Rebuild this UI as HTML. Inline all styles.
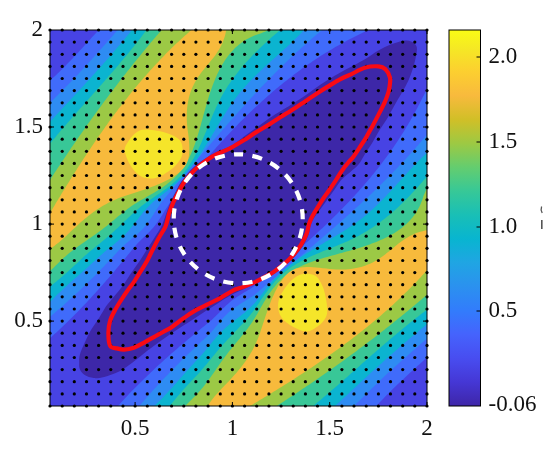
<!DOCTYPE html>
<html><head><meta charset="utf-8"><title>contour plot</title>
<style>html,body{margin:0;padding:0;background:#fff}svg{display:block}</style></head>
<body>
<svg width="550" height="451" viewBox="0 0 550 451">
<rect width="550" height="451" fill="#fff"/>
<clipPath id="pc"><rect x="50.0" y="30.0" width="377.0" height="376.0"/></clipPath>
<g clip-path="url(#pc)">
<rect x="50.0" y="30.0" width="377.0" height="376.0" fill="#4743E4"/>
<path d="M0.8 383.6L2.4 382.2L4.0 380.7L5.6 379.3L7.1 377.8L8.7 376.4L10.3 374.9L11.9 373.4L13.5 372.0L15.0 370.5L16.6 369.1L18.2 367.6L19.8 366.2L21.4 364.7L22.9 363.2L24.5 361.8L26.1 360.3L27.7 358.9L29.2 357.4L30.8 355.9L32.4 354.5L34.0 353.0L35.6 351.6L37.1 350.1L38.7 348.7L40.3 347.2L41.9 345.7L43.4 344.3L45.0 342.8L46.6 341.4L48.2 339.9L49.8 338.4L51.3 337.0L51.3 337.0L52.9 335.6L54.5 334.1L56.1 332.7L57.7 331.2L59.3 329.7L60.8 328.3L62.4 326.8L64.0 325.3L65.5 323.8L67.1 322.3L68.6 320.8L70.1 319.3L71.7 317.8L73.2 316.3L74.7 314.8L76.2 313.3L77.7 311.7L79.2 310.2L80.7 308.6L82.2 307.1L83.7 305.5L85.1 304.0L86.6 302.4L88.1 300.8L89.5 299.3L91.0 297.7L92.4 296.1L93.9 294.5L95.3 292.9L96.8 291.3L98.2 289.7L99.6 288.1L101.1 286.5L102.5 284.9L103.9 283.3L105.3 281.7L106.7 280.1L108.2 278.4L109.6 276.8L111.0 275.2L112.4 273.5L113.8 271.9L115.2 270.2L116.5 268.6L117.9 267.0L119.3 265.3L120.7 263.6L122.1 262.0L123.5 260.3L124.8 258.7L126.2 257.0L127.6 255.3L128.9 253.7L130.3 252.0L131.7 250.3L133.0 248.7L134.4 247.0L135.8 245.4L137.2 243.8L138.7 242.2L140.2 240.7L141.7 239.2L143.3 237.7L144.9 236.2L146.4 234.7L147.9 233.2L149.5 231.7L151.0 230.1L152.4 228.6L153.8 226.9L155.2 225.3L156.5 223.5L157.8 221.8L159.0 220.0L160.2 218.1L161.4 216.3L162.5 214.4L163.7 212.5L164.8 210.6L166.0 208.7L167.2 206.9L168.4 205.1L169.6 203.3L170.9 201.5L172.3 199.8L173.6 198.2L175.0 196.5L176.3 194.8L177.7 193.1L179.0 191.4L180.4 189.8L181.8 188.1L183.1 186.4L184.5 184.8L185.9 183.1L187.2 181.4L188.6 179.8L190.0 178.1L191.4 176.5L192.8 174.8L194.1 173.1L195.5 171.5L196.9 169.8L198.3 168.2L199.7 166.6L201.1 164.9L202.5 163.3L203.9 161.7L205.3 160.0L206.7 158.4L208.1 156.8L209.5 155.2L211.0 153.5L212.4 151.9L213.8 150.3L215.3 148.7L216.7 147.1L218.1 145.5L219.6 143.9L221.0 142.3L222.5 140.8L223.9 139.2L225.4 137.6L226.9 136.0L228.3 134.5L229.8 132.9L231.3 131.3L232.8 129.8L234.2 128.2L235.7 126.7L237.2 125.2L238.7 123.6L240.2 122.1L241.8 120.6L243.3 119.1L244.8 117.6L246.3 116.0L247.9 114.5L249.4 113.1L251.0 111.6L252.5 110.1L254.1 108.6L255.6 107.1L257.2 105.7L258.8 104.2L260.4 102.7L261.9 101.3L263.5 99.9L265.1 98.4L266.8 97.0L268.4 95.6L270.0 94.2L271.6 92.7L273.2 91.3L274.9 89.9L276.5 88.6L278.2 87.2L279.9 85.8L281.5 84.4L283.2 83.1L284.9 81.7L286.6 80.4L288.3 79.0L290.0 77.7L291.7 76.4L293.4 75.1L295.1 73.8L296.9 72.5L298.6 71.2L300.4 69.9L302.1 68.6L303.9 67.3L305.7 66.1L307.5 64.8L309.3 63.6L311.1 62.4L312.9 61.1L314.7 59.9L316.5 58.7L318.4 57.5L320.2 56.3L322.1 55.1L323.9 54.0L325.8 52.8L327.7 51.7L329.6 50.5L331.5 49.4L333.4 48.2L335.3 47.1L337.3 46.0L339.2 44.9L341.2 43.8L343.1 42.8L345.1 41.7L347.1 40.6L349.1 39.6L351.1 38.6L353.1 37.5L355.1 36.5L357.1 35.5L359.1 34.5L361.1 33.4L363.1 32.4L365.1 31.4L367.1 30.3L369.1 29.3L371.1 28.2L373.1 27.2L375.1 26.2L377.1 25.1L379.1 24.1L381.1 23.1L383.1 22.0L385.1 21.0L387.1 19.9L389.1 18.9L391.1 17.9L393.1 16.8L395.1 15.8L397.1 14.8L399.1 13.7L401.1 12.7L403.1 11.6L405.1 10.6L407.1 9.6L409.1 8.5L411.1 7.5L413.1 6.4L415.1 5.4L417.1 4.4L419.1 3.3L421.1 2.3L143.7 -19.7L142.2 -18.1L140.8 -16.5L139.3 -14.9L137.9 -13.3L136.5 -11.7L135.0 -10.1L133.6 -8.5L132.1 -7.0L130.7 -5.4L129.2 -3.8L127.8 -2.2L126.4 -0.6L124.9 1.0L123.5 2.6L122.0 4.2L120.6 5.8L119.1 7.4L117.7 9.0L116.2 10.6L114.8 12.2L113.4 13.7L111.9 15.3L110.5 16.9L109.0 18.5L107.6 20.1L106.1 21.7L104.7 23.3L103.3 24.9L101.8 26.5L100.4 28.1L98.9 29.7L97.5 31.3L96.0 32.9L94.6 34.4L93.2 36.0L91.7 37.6L90.3 39.2L88.8 40.8L87.4 42.4L85.9 44.0L84.5 45.6L83.0 47.2L81.6 48.7L80.1 50.3L78.6 51.9L77.2 53.5L75.7 55.0L74.2 56.6L72.8 58.2L71.3 59.7L69.8 61.3L68.3 62.8L66.8 64.3L65.3 65.9L63.8 67.4L62.3 68.9L60.7 70.4L59.2 71.9L57.6 73.4L56.1 74.9L54.5 76.4L53.0 77.8L51.4 79.3L49.8 80.8L48.3 82.2L46.7 83.7L45.1 85.2L43.6 86.7L42.0 88.2L40.5 89.6L38.9 91.1L37.4 92.6L35.8 94.1L34.3 95.6L32.7 97.1L31.2 98.5L29.6 100.0L28.0 101.5L26.5 103.0L24.9 104.5L23.4 105.9L21.8 107.4L20.3 108.9L18.7 110.4L17.2 111.9L15.6 113.3L14.0 114.8L12.5 116.3L10.9 117.8L9.4 119.3L7.8 120.8L6.3 122.2L4.7 123.7L3.2 125.2L1.6 126.7L0.1 128.2ZM72.4 455.0L73.9 453.5L75.3 451.9L76.8 450.3L78.3 448.7L79.7 447.2L81.2 445.6L82.6 444.0L84.1 442.4L85.6 440.9L87.0 439.3L88.5 437.7L90.0 436.1L91.4 434.6L92.9 433.0L94.3 431.4L95.8 429.8L97.3 428.3L98.7 426.7L100.2 425.1L101.7 423.6L103.1 422.0L104.6 420.4L106.0 418.8L107.5 417.3L109.0 415.7L110.4 414.1L111.9 412.5L113.3 411.0L114.8 409.4L116.3 407.8L117.7 406.2L119.2 404.7L119.2 404.7L120.6 403.1L122.1 401.5L123.5 399.9L125.0 398.3L126.5 396.7L127.9 395.2L129.4 393.6L130.9 392.1L132.4 390.5L133.9 389.0L135.4 387.5L136.9 385.9L138.4 384.4L139.9 382.9L141.5 381.4L143.0 379.9L144.5 378.4L146.1 376.9L147.6 375.4L149.2 373.9L150.7 372.4L152.3 371.0L153.9 369.5L155.4 368.0L157.0 366.6L158.6 365.1L160.2 363.7L161.8 362.2L163.4 360.8L165.0 359.3L166.6 357.9L168.2 356.5L169.8 355.1L171.4 353.6L173.0 352.2L174.7 350.8L176.3 349.4L177.9 348.0L179.5 346.6L181.2 345.2L182.8 343.8L184.5 342.4L186.1 341.0L187.8 339.6L189.4 338.2L191.1 336.9L192.7 335.5L194.4 334.1L196.1 332.7L197.7 331.4L199.4 330.0L201.1 328.6L202.7 327.3L204.4 325.9L206.1 324.5L207.7 323.2L209.4 321.8L211.1 320.4L212.7 319.0L214.2 317.5L215.8 316.0L217.3 314.5L218.8 313.0L220.3 311.4L221.7 309.8L223.2 308.3L224.8 306.8L226.3 305.3L227.9 303.9L229.5 302.5L231.2 301.1L232.9 299.8L234.7 298.5L236.5 297.3L238.4 296.1L240.2 294.9L242.1 293.8L244.0 292.6L245.9 291.5L247.8 290.3L249.6 289.2L251.5 287.9L253.3 286.7L255.0 285.4L256.7 284.1L258.4 282.7L260.1 281.4L261.8 280.0L263.4 278.7L265.1 277.3L266.8 275.9L268.5 274.6L270.2 273.2L271.8 271.9L273.5 270.5L275.2 269.1L276.8 267.8L278.5 266.4L280.2 265.0L281.8 263.6L283.5 262.2L285.1 260.9L286.8 259.5L288.4 258.1L290.1 256.7L291.7 255.3L293.4 253.9L295.0 252.5L296.6 251.1L298.3 249.7L299.9 248.3L301.5 246.9L303.1 245.5L304.7 244.0L306.4 242.6L308.0 241.2L309.6 239.8L311.2 238.3L312.8 236.9L314.4 235.4L315.9 234.0L317.5 232.5L319.1 231.1L320.7 229.6L322.3 228.2L323.8 226.7L325.4 225.2L326.9 223.7L328.5 222.2L330.0 220.8L331.6 219.3L333.1 217.8L334.6 216.3L336.2 214.7L337.7 213.2L339.2 211.7L340.7 210.2L342.2 208.7L343.7 207.1L345.2 205.6L346.7 204.0L348.2 202.5L349.7 200.9L351.1 199.3L352.6 197.8L354.1 196.2L355.5 194.6L357.0 193.0L358.4 191.4L359.8 189.8L361.3 188.2L362.7 186.6L364.1 185.0L365.5 183.3L366.9 181.7L368.3 180.1L369.7 178.4L371.1 176.8L372.4 175.1L373.8 173.4L375.1 171.7L376.5 170.1L377.8 168.4L379.2 166.7L380.5 164.9L381.8 163.2L383.1 161.5L384.4 159.8L385.7 158.0L387.0 156.3L388.3 154.5L389.6 152.8L390.8 151.0L392.1 149.2L393.3 147.4L394.6 145.6L395.8 143.8L397.0 142.0L398.2 140.2L399.4 138.3L400.6 136.5L401.8 134.6L403.0 132.8L404.1 130.9L405.3 129.0L406.4 127.1L407.6 125.2L408.7 123.3L409.8 121.4L410.9 119.5L412.0 117.6L413.1 115.6L414.2 113.7L415.3 111.7L416.3 109.7L417.4 107.7L418.4 105.7L419.5 103.7L420.5 101.7L421.5 99.7L422.5 97.7L423.6 95.7L424.6 93.7L425.6 91.7L426.7 89.7L427.7 87.7L428.8 85.7L429.8 83.7L430.8 81.7L431.9 79.7L432.9 77.7L434.0 75.8L435.0 73.8L436.0 71.8L437.1 69.8L438.1 67.8L439.2 65.8L440.2 63.8L441.2 61.8L442.3 59.8L443.3 57.8L444.4 55.8L445.4 53.8L446.5 51.8L447.5 49.8L448.5 47.8L449.6 45.8L450.6 43.8L451.7 41.9L452.7 39.9L453.7 37.9L454.8 35.9L476.8 312.6L475.2 314.0L473.6 315.4L472.0 316.9L470.4 318.3L468.8 319.8L467.2 321.2L465.6 322.6L464.1 324.1L462.5 325.5L460.9 327.0L459.3 328.4L457.7 329.8L456.1 331.3L454.5 332.7L452.9 334.2L451.3 335.6L449.7 337.0L448.1 338.5L446.5 339.9L444.9 341.4L443.3 342.8L441.7 344.2L440.1 345.7L438.5 347.1L436.9 348.6L435.3 350.0L433.7 351.4L432.1 352.9L430.5 354.3L428.9 355.8L427.3 357.2L425.7 358.6L424.1 360.1L422.5 361.5L420.9 363.0L419.3 364.4L417.7 365.8L416.2 367.3L414.6 368.7L413.0 370.2L411.4 371.6L409.8 373.1L408.2 374.5L406.6 376.0L405.0 377.4L403.5 378.9L401.9 380.4L400.3 381.8L398.8 383.3L397.2 384.8L395.7 386.3L394.1 387.8L392.6 389.3L391.0 390.8L389.5 392.3L388.0 393.8L386.5 395.3L385.0 396.8L383.5 398.4L382.0 399.9L380.5 401.5L379.0 403.0L377.6 404.6L376.1 406.2L374.6 407.7L373.1 409.3L371.7 410.8L370.2 412.4L368.7 413.9L367.2 415.5L365.7 417.0L364.2 418.6L362.7 420.1L361.3 421.7L359.8 423.2L358.3 424.8L356.8 426.3L355.3 427.9L353.8 429.4L352.3 431.0L350.9 432.6L349.4 434.1L347.9 435.7L346.4 437.2L344.9 438.8L343.4 440.3L341.9 441.9L340.5 443.4L339.0 445.0L337.5 446.5L336.0 448.1L334.5 449.6L333.0 451.2L331.5 452.7L330.1 454.3L328.6 455.8Z" fill="#406BFB"/>
<path d="M-2.6 362.0L-1.0 360.6L0.6 359.2L2.3 357.8L3.9 356.4L5.5 355.0L7.2 353.6L8.8 352.2L10.4 350.8L12.1 349.4L13.7 348.0L15.3 346.6L17.0 345.2L18.6 343.8L20.2 342.4L21.9 341.0L23.5 339.6L25.1 338.1L26.8 336.7L28.4 335.3L30.0 333.9L31.7 332.5L33.3 331.1L34.9 329.7L36.6 328.3L38.2 326.9L39.8 325.5L41.5 324.1L43.1 322.7L44.7 321.3L46.4 319.9L48.0 318.5L49.6 317.1L51.3 315.7L53.0 314.3L54.6 312.9L56.2 311.5L57.9 310.1L59.5 308.7L61.1 307.3L62.7 305.9L64.3 304.5L65.9 303.0L67.5 301.6L69.1 300.1L70.7 298.7L72.3 297.2L73.9 295.8L75.4 294.3L77.0 292.9L78.6 291.4L80.1 289.9L81.7 288.4L83.2 286.9L84.8 285.4L86.3 283.9L87.9 282.4L89.4 280.9L90.9 279.4L92.4 277.9L94.0 276.4L95.5 274.9L97.0 273.4L98.5 271.8L100.0 270.3L101.5 268.8L103.0 267.2L104.5 265.7L106.0 264.1L107.5 262.6L108.9 261.0L110.4 259.5L111.9 257.9L113.4 256.3L114.8 254.8L116.3 253.2L117.7 251.6L119.2 250.0L120.7 248.5L122.2 247.0L123.8 245.5L125.4 244.1L127.0 242.7L128.7 241.3L130.4 239.9L132.0 238.6L133.7 237.2L135.4 235.8L137.0 234.4L138.6 233.0L140.2 231.5L141.7 230.0L143.2 228.4L144.6 226.8L146.0 225.2L147.3 223.5L148.6 221.7L149.9 220.0L151.1 218.1L152.3 216.3L153.5 214.4L154.6 212.6L155.8 210.7L157.0 208.8L158.2 207.0L159.4 205.2L160.6 203.4L161.9 201.7L163.3 200.0L164.6 198.3L166.0 196.7L167.4 195.0L168.8 193.4L170.2 191.7L171.6 190.1L173.0 188.4L174.4 186.8L175.8 185.1L177.1 183.5L178.5 181.8L179.9 180.2L181.3 178.5L182.7 176.9L184.1 175.2L185.5 173.6L186.9 171.9L188.2 170.3L189.6 168.7L191.0 167.0L192.4 165.4L193.8 163.7L195.2 162.1L196.6 160.4L198.0 158.8L199.3 157.1L200.7 155.5L202.1 153.8L203.5 152.2L204.9 150.5L206.3 148.9L207.7 147.3L209.1 145.6L210.5 144.0L211.9 142.3L213.3 140.7L214.7 139.1L216.1 137.4L217.5 135.8L218.9 134.2L220.3 132.6L221.7 130.9L223.1 129.3L224.6 127.7L226.0 126.1L227.4 124.4L228.8 122.8L230.2 121.2L231.6 119.6L233.1 118.0L234.5 116.4L235.9 114.8L237.4 113.2L238.8 111.5L240.2 109.9L241.7 108.4L243.1 106.8L244.5 105.2L246.0 103.6L247.4 102.0L248.9 100.4L250.4 98.8L251.8 97.2L253.3 95.7L254.7 94.1L256.2 92.5L257.7 91.0L259.1 89.4L260.6 87.8L262.1 86.3L263.6 84.7L265.1 83.2L266.6 81.7L268.1 80.1L269.6 78.6L271.1 77.0L272.6 75.5L274.1 74.0L275.6 72.5L277.1 70.9L278.7 69.4L280.2 67.9L281.7 66.4L283.2 64.9L284.8 63.4L286.3 61.9L287.9 60.5L289.4 59.0L291.0 57.5L292.6 56.0L294.1 54.6L295.7 53.1L297.3 51.6L298.9 50.2L300.5 48.7L302.1 47.3L303.6 45.9L305.3 44.4L306.9 43.0L308.5 41.6L310.1 40.2L311.7 38.7L313.4 37.3L315.0 35.9L316.6 34.6L318.3 33.2L319.9 31.8L321.6 30.4L323.2 29.0L324.9 27.6L326.5 26.2L328.2 24.8L329.8 23.4L331.4 22.0L333.1 20.6L334.7 19.2L336.4 17.8L338.0 16.4L339.6 15.0L341.3 13.7L342.9 12.3L344.6 10.9L346.2 9.5L347.9 8.1L349.5 6.7L351.1 5.3L352.8 3.9L354.4 2.5L356.1 1.1L357.7 -0.3L359.3 -1.7L361.0 -3.1L362.6 -4.5L364.3 -5.9L365.9 -7.3L367.5 -8.7L369.2 -10.1L370.8 -11.5L372.5 -12.9L175.9 -38.5L174.5 -36.8L173.1 -35.2L171.8 -33.5L170.4 -31.9L169.0 -30.3L167.6 -28.6L166.2 -27.0L164.8 -25.3L163.4 -23.7L162.0 -22.1L160.6 -20.4L159.2 -18.8L157.8 -17.1L156.4 -15.5L155.0 -13.9L153.6 -12.2L152.2 -10.6L150.8 -8.9L149.4 -7.3L148.0 -5.7L146.6 -4.0L145.2 -2.4L143.8 -0.7L142.4 0.9L141.0 2.5L139.6 4.2L138.3 5.8L136.9 7.5L135.5 9.1L134.1 10.7L132.7 12.4L131.3 14.0L129.9 15.7L128.5 17.3L127.1 19.0L125.7 20.6L124.3 22.2L122.9 23.9L121.5 25.5L120.1 27.1L118.7 28.8L117.3 30.4L115.9 32.0L114.5 33.6L113.1 35.3L111.6 36.9L110.2 38.5L108.8 40.1L107.4 41.7L106.0 43.4L104.5 45.0L103.1 46.6L101.7 48.2L100.3 49.8L98.8 51.4L97.4 53.0L96.0 54.6L94.5 56.2L93.1 57.8L91.7 59.4L90.2 61.0L88.8 62.6L87.3 64.2L85.9 65.8L84.4 67.4L83.0 68.9L81.5 70.5L80.0 72.1L78.6 73.7L77.1 75.2L75.6 76.8L74.1 78.3L72.7 79.9L71.2 81.4L69.7 83.0L68.2 84.5L66.7 86.0L65.2 87.6L63.6 89.1L62.1 90.6L60.6 92.1L59.1 93.7L57.6 95.2L56.1 96.7L54.6 98.3L53.1 99.8L51.6 101.3L50.1 102.9L48.6 104.4L47.1 105.9L45.6 107.5L44.1 109.0L42.6 110.5L41.1 112.1L39.6 113.6L38.1 115.2L36.6 116.7L35.1 118.3L33.6 119.8L32.1 121.3L30.6 122.9L29.2 124.4L27.7 126.0L26.2 127.5L24.7 129.1L23.2 130.6L21.7 132.2L20.2 133.7L18.7 135.3L17.2 136.8L15.7 138.4L14.3 139.9L12.8 141.4L11.3 143.0L9.8 144.5L8.3 146.1L6.8 147.6L5.3 149.2L3.8 150.7L2.3 152.3L0.8 153.8L-0.6 155.4L-2.1 156.9L-3.6 158.5L-5.1 160.0L-6.6 161.5L-8.1 163.1L-9.6 164.6L-11.1 166.2L-12.6 167.7L-14.1 169.3L-15.6 170.8L-17.0 172.4L-18.5 173.9ZM94.1 458.5L95.5 456.9L96.9 455.2L98.3 453.6L99.7 452.0L101.2 450.3L102.6 448.7L104.0 447.1L105.4 445.5L106.8 443.8L108.2 442.2L109.6 440.6L111.0 438.9L112.4 437.3L113.8 435.7L115.2 434.1L116.6 432.4L118.0 430.8L119.4 429.2L120.8 427.5L122.3 425.9L123.7 424.3L125.1 422.6L126.5 421.0L127.9 419.4L129.3 417.8L130.7 416.1L132.1 414.5L133.5 412.9L134.9 411.2L136.3 409.6L137.7 408.0L139.1 406.4L140.5 404.7L141.9 403.1L143.3 401.4L144.7 399.8L146.1 398.2L147.5 396.5L149.0 394.9L150.4 393.3L151.8 391.7L153.2 390.1L154.7 388.5L156.1 386.9L157.6 385.3L159.0 383.8L160.5 382.2L162.0 380.6L163.4 379.1L164.9 377.5L166.4 375.9L167.9 374.4L169.4 372.8L170.9 371.3L172.4 369.8L173.9 368.2L175.4 366.7L176.9 365.2L178.4 363.7L179.9 362.2L181.5 360.6L183.0 359.1L184.5 357.6L186.1 356.1L187.6 354.6L189.2 353.1L190.7 351.7L192.3 350.2L193.8 348.7L195.4 347.2L196.9 345.7L198.5 344.3L200.1 342.8L201.6 341.3L203.2 339.9L204.8 338.4L206.4 337.0L207.9 335.5L209.4 334.0L210.9 332.4L212.4 330.8L213.8 329.2L215.1 327.5L216.5 325.9L217.9 324.2L219.3 322.5L220.6 320.9L222.0 319.2L223.5 317.6L225.0 316.1L226.5 314.6L228.0 313.1L229.6 311.6L231.3 310.3L233.0 308.9L234.7 307.6L236.5 306.4L238.4 305.2L240.2 304.0L242.1 302.8L243.9 301.7L245.8 300.5L247.7 299.3L249.5 298.1L251.3 296.9L253.1 295.7L254.9 294.4L256.6 293.0L258.3 291.7L259.9 290.3L261.5 288.9L263.2 287.5L264.8 286.1L266.5 284.7L268.1 283.3L269.8 282.0L271.4 280.6L273.1 279.2L274.8 277.8L276.4 276.4L278.1 275.0L279.7 273.7L281.4 272.3L283.0 270.9L284.7 269.5L286.3 268.1L288.0 266.7L289.6 265.4L291.3 264.0L292.9 262.6L294.6 261.2L296.2 259.8L297.9 258.4L299.5 257.0L301.2 255.7L302.8 254.3L304.5 252.9L306.1 251.5L307.8 250.1L309.4 248.7L311.1 247.3L312.7 245.9L314.4 244.5L316.0 243.1L317.6 241.7L319.3 240.3L320.9 238.9L322.5 237.5L324.2 236.1L325.8 234.7L327.4 233.3L329.1 231.9L330.7 230.5L332.3 229.1L333.9 227.7L335.6 226.3L337.2 224.8L338.8 223.4L340.4 222.0L342.0 220.6L343.6 219.1L345.2 217.7L346.8 216.3L348.4 214.8L350.0 213.4L351.6 212.0L353.2 210.5L354.8 209.1L356.4 207.6L358.0 206.2L359.6 204.7L361.2 203.3L362.7 201.8L364.3 200.3L365.9 198.9L367.4 197.4L369.0 195.9L370.6 194.5L372.1 193.0L373.7 191.5L375.2 190.0L376.8 188.5L378.3 187.0L379.8 185.5L381.4 184.0L382.9 182.5L384.4 181.0L385.9 179.5L387.5 178.0L389.0 176.4L390.5 174.9L392.0 173.4L393.5 171.8L395.0 170.3L396.5 168.7L398.0 167.2L399.4 165.6L400.9 164.1L402.4 162.5L403.8 160.9L405.3 159.4L406.8 157.8L408.2 156.2L409.7 154.6L411.1 153.0L412.5 151.4L414.0 149.8L415.4 148.2L416.8 146.6L418.2 145.0L419.6 143.3L421.0 141.7L422.4 140.1L423.8 138.4L425.2 136.8L426.6 135.1L428.0 133.5L429.4 131.8L430.8 130.2L432.2 128.6L433.6 126.9L435.0 125.3L436.4 123.7L437.8 122.0L439.2 120.4L440.6 118.8L442.0 117.1L443.4 115.5L444.8 113.8L446.2 112.2L447.6 110.6L449.0 108.9L450.4 107.3L451.8 105.7L453.2 104.0L454.6 102.4L456.0 100.8L457.4 99.1L458.8 97.5L460.2 95.8L461.6 94.2L463.0 92.6L464.4 90.9L465.8 89.3L467.2 87.7L468.6 86.0L470.0 84.4L495.6 280.4L494.0 281.8L492.4 283.2L490.7 284.6L489.1 286.0L487.4 287.4L485.8 288.7L484.1 290.1L482.5 291.5L480.8 292.9L479.2 294.3L477.6 295.7L475.9 297.1L474.3 298.5L472.6 299.9L471.0 301.3L469.3 302.7L467.7 304.1L466.0 305.5L464.4 306.8L462.8 308.2L461.1 309.6L459.5 311.0L457.8 312.4L456.2 313.8L454.5 315.2L452.9 316.6L451.2 318.0L449.6 319.4L448.0 320.8L446.3 322.2L444.7 323.6L443.0 324.9L441.4 326.3L439.7 327.7L438.1 329.1L436.4 330.5L434.8 331.9L433.1 333.3L431.5 334.7L429.9 336.1L428.2 337.5L426.6 338.9L425.0 340.3L423.3 341.7L421.7 343.1L420.1 344.5L418.5 345.9L416.8 347.4L415.2 348.8L413.6 350.2L412.0 351.6L410.4 353.0L408.7 354.4L407.1 355.9L405.5 357.3L403.9 358.7L402.3 360.1L400.7 361.6L399.1 363.0L397.5 364.4L395.9 365.9L394.3 367.3L392.7 368.8L391.1 370.2L389.5 371.7L387.9 373.1L386.4 374.6L384.8 376.0L383.2 377.5L381.7 379.0L380.1 380.4L378.5 381.9L377.0 383.4L375.4 384.9L373.9 386.4L372.3 387.9L370.8 389.4L369.3 390.9L367.7 392.4L366.2 393.9L364.7 395.4L363.2 396.9L361.6 398.4L360.1 399.9L358.6 401.4L357.0 402.9L355.5 404.4L354.0 405.9L352.4 407.4L350.9 408.9L349.3 410.4L347.8 411.9L346.2 413.4L344.7 414.9L343.2 416.4L341.6 417.9L340.1 419.4L338.5 420.8L337.0 422.3L335.4 423.8L333.9 425.3L332.3 426.8L330.8 428.3L329.2 429.8L327.7 431.2L326.1 432.7L324.6 434.2L323.0 435.7L321.5 437.2L319.9 438.7L318.4 440.2L316.8 441.6L315.3 443.1L313.7 444.6L312.2 446.1L310.6 447.6L309.1 449.1L307.5 450.6L306.0 452.1L304.4 453.5L302.9 455.0L301.3 456.5L299.8 458.0L298.2 459.5L296.7 461.0L295.1 462.5L293.6 463.9L292.0 465.4L290.5 466.9L288.9 468.4L287.4 469.9L285.8 471.4L284.3 472.9L282.7 474.4Z" fill="#2E8CF3"/>
<path d="M1.1 351.2L2.6 349.6L4.1 348.1L5.6 346.6L7.2 345.1L8.7 343.6L10.2 342.0L11.7 340.5L13.2 339.0L14.7 337.5L16.3 336.0L17.8 334.4L19.3 332.9L20.8 331.4L22.3 329.9L23.8 328.4L25.4 326.8L26.9 325.3L28.4 323.8L29.9 322.3L31.4 320.8L32.9 319.2L34.5 317.7L36.0 316.2L37.5 314.7L39.0 313.2L40.5 311.6L42.0 310.1L43.6 308.6L45.1 307.1L46.6 305.6L48.1 304.1L49.6 302.5L51.1 301.0L52.6 299.4L54.1 297.9L55.6 296.3L57.1 294.8L58.7 293.3L60.2 291.9L61.8 290.4L63.3 288.9L64.9 287.5L66.5 286.0L68.1 284.6L69.7 283.1L71.3 281.7L72.9 280.3L74.5 278.8L76.1 277.4L77.8 276.0L79.4 274.6L81.0 273.2L82.6 271.7L84.2 270.3L85.8 268.9L87.4 267.5L89.0 266.0L90.6 264.6L92.2 263.1L93.8 261.7L95.3 260.2L96.9 258.7L98.5 257.2L100.1 255.8L101.7 254.4L103.3 253.0L105.0 251.6L106.6 250.2L108.3 248.9L110.0 247.5L111.7 246.2L113.4 244.8L115.0 243.4L116.7 242.1L118.3 240.7L120.0 239.3L121.6 237.8L123.1 236.4L124.7 234.9L126.2 233.3L127.7 231.8L129.1 230.2L130.5 228.5L131.9 226.9L133.2 225.2L134.6 223.5L135.9 221.8L137.2 220.1L138.5 218.4L139.8 216.6L141.2 214.9L142.5 213.2L143.9 211.6L145.3 209.9L146.7 208.3L148.2 206.8L149.7 205.2L151.2 203.7L152.8 202.3L154.4 200.8L156.1 199.5L157.8 198.1L159.5 196.8L161.2 195.5L162.9 194.2L164.6 192.8L166.3 191.5L168.0 190.2L169.7 188.8L171.4 187.4L173.0 186.0L174.6 184.6L176.2 183.2L177.8 181.7L179.4 180.3L180.9 178.7L182.4 177.2L183.9 175.6L185.3 174.0L186.7 172.4L188.1 170.8L189.5 169.1L190.8 167.4L192.2 165.7L193.5 164.0L194.8 162.2L196.0 160.5L197.3 158.7L198.5 156.9L199.7 155.1L201.0 153.3L202.1 151.4L203.3 149.6L204.5 147.7L205.7 145.8L206.8 144.0L208.0 142.1L209.1 140.2L210.3 138.3L211.4 136.4L212.5 134.5L213.7 132.6L214.8 130.7L215.9 128.8L217.1 126.9L218.2 125.0L219.3 123.1L220.5 121.2L221.6 119.3L222.8 117.4L223.9 115.5L225.1 113.7L226.3 111.8L227.5 110.0L228.7 108.1L229.9 106.3L231.1 104.5L232.4 102.7L233.6 100.9L234.9 99.2L236.2 97.4L237.5 95.7L238.8 94.0L240.2 92.3L241.6 90.7L243.0 89.0L244.4 87.4L245.8 85.8L247.3 84.2L248.7 82.6L250.2 81.1L251.7 79.5L253.2 78.0L254.7 76.5L256.2 75.0L257.8 73.5L259.3 72.0L260.9 70.5L262.5 69.1L264.0 67.6L265.6 66.1L267.2 64.7L268.8 63.2L270.4 61.8L272.0 60.3L273.6 58.9L275.2 57.5L276.8 56.0L278.4 54.6L280.0 53.2L281.6 51.7L283.1 50.3L284.7 48.8L286.3 47.4L287.9 45.9L289.5 44.4L291.0 43.0L292.6 41.5L294.1 40.0L295.7 38.5L297.2 37.0L298.7 35.5L300.2 33.9L301.7 32.4L303.2 30.8L304.6 29.2L306.1 27.7L307.7 26.2L309.2 24.7L310.7 23.1L312.2 21.6L313.7 20.1L315.2 18.6L316.7 17.0L318.2 15.5L319.7 14.0L321.2 12.4L322.7 10.9L324.2 9.4L325.8 7.9L327.3 6.3L328.8 4.8L330.3 3.3L331.8 1.8L333.3 0.2L334.8 -1.3L336.3 -2.8L337.8 -4.4L339.3 -5.9L340.8 -7.4L342.4 -8.9L343.9 -10.5L345.4 -12.0L346.9 -13.5L348.4 -15.0L349.9 -16.6L351.4 -18.1L182.3 -32.2L180.9 -30.5L179.5 -28.8L178.2 -27.1L176.8 -25.4L175.5 -23.8L174.1 -22.1L172.8 -20.4L171.4 -18.7L170.0 -17.1L168.7 -15.4L167.3 -13.7L166.0 -12.0L164.6 -10.3L163.2 -8.7L161.9 -7.0L160.5 -5.3L159.2 -3.6L157.8 -2.0L156.5 -0.3L155.1 1.4L153.7 3.1L152.4 4.8L151.0 6.4L149.7 8.1L148.3 9.8L147.0 11.5L145.6 13.1L144.2 14.8L142.9 16.5L141.5 18.2L140.2 19.9L138.8 21.5L137.5 23.2L136.1 24.9L134.8 26.6L133.4 28.3L132.0 29.9L130.7 31.6L129.3 33.3L127.9 35.0L126.6 36.6L125.2 38.3L123.8 39.9L122.4 41.6L121.0 43.2L119.6 44.9L118.2 46.5L116.8 48.1L115.4 49.8L114.0 51.4L112.6 53.0L111.2 54.7L109.8 56.3L108.4 57.9L107.0 59.5L105.6 61.2L104.1 62.8L102.7 64.4L101.3 66.0L99.9 67.6L98.4 69.2L97.0 70.8L95.6 72.4L94.1 74.0L92.7 75.6L91.3 77.2L89.8 78.8L88.4 80.4L86.9 82.0L85.5 83.6L84.0 85.2L82.6 86.7L81.1 88.3L79.7 89.9L78.2 91.5L76.7 93.0L75.3 94.6L73.8 96.2L72.3 97.7L70.8 99.3L69.4 100.9L67.9 102.4L66.4 104.0L65.0 105.6L63.5 107.2L62.0 108.7L60.6 110.3L59.1 111.9L57.7 113.5L56.2 115.0L54.8 116.6L53.3 118.2L51.9 119.8L50.4 121.4L49.0 123.0L47.5 124.5L46.1 126.1L44.6 127.7L43.2 129.3L41.8 130.9L40.3 132.5L38.9 134.1L37.4 135.7L36.0 137.3L34.6 138.9L33.1 140.5L31.7 142.1L30.2 143.7L28.8 145.3L27.4 146.9L25.9 148.5L24.5 150.1L23.1 151.7L21.6 153.3L20.2 154.9L18.7 156.5L17.3 158.1L15.9 159.7L14.4 161.3L13.0 162.9L11.5 164.5L10.1 166.1L8.7 167.7L7.2 169.3L5.8 170.9L4.3 172.5L2.9 174.1L1.5 175.7L0.0 177.2L-1.4 178.8L-2.9 180.4L-4.3 182.0L-5.7 183.6L-7.2 185.2ZM105.0 454.8L106.5 453.3L108.0 451.8L109.6 450.2L111.1 448.7L112.6 447.2L114.1 445.7L115.7 444.2L117.2 442.7L118.7 441.2L120.2 439.7L121.8 438.1L123.3 436.6L124.8 435.1L126.3 433.6L127.8 432.1L129.4 430.6L130.9 429.1L132.4 427.6L133.9 426.0L135.5 424.5L137.0 423.0L138.5 421.5L140.0 420.0L141.6 418.5L143.1 417.0L144.6 415.4L146.1 413.9L147.7 412.4L149.2 410.9L150.7 409.4L152.2 407.9L153.7 406.4L155.3 404.9L156.9 403.4L158.4 401.9L159.9 400.4L161.5 398.9L163.0 397.4L164.5 395.8L165.9 394.3L167.4 392.7L168.9 391.1L170.3 389.5L171.8 388.0L173.2 386.4L174.6 384.8L176.1 383.2L177.5 381.5L178.9 379.9L180.3 378.3L181.8 376.7L183.2 375.1L184.6 373.5L186.0 371.9L187.5 370.3L188.9 368.7L190.4 367.1L191.8 365.5L193.3 363.9L194.7 362.3L196.2 360.8L197.7 359.2L199.1 357.7L200.6 356.1L202.0 354.5L203.4 352.8L204.8 351.2L206.2 349.5L207.6 347.8L208.9 346.2L210.3 344.5L211.6 342.8L213.0 341.1L214.4 339.5L215.8 337.8L217.2 336.2L218.6 334.6L220.1 333.1L221.6 331.5L223.1 330.0L224.7 328.6L226.3 327.1L227.9 325.7L229.6 324.3L231.3 323.0L233.0 321.6L234.7 320.3L236.4 319.0L238.1 317.7L239.9 316.4L241.6 315.1L243.3 313.7L244.9 312.4L246.6 311.0L248.2 309.5L249.8 308.1L251.3 306.6L252.8 305.1L254.3 303.5L255.7 301.9L257.1 300.2L258.4 298.5L259.7 296.8L261.1 295.1L262.4 293.4L263.7 291.7L265.1 290.0L266.4 288.3L267.8 286.6L269.2 285.0L270.6 283.3L272.0 281.7L273.4 280.1L274.9 278.5L276.4 277.0L277.9 275.5L279.4 274.0L281.0 272.5L282.6 271.1L284.2 269.6L285.8 268.3L287.5 266.9L289.2 265.5L290.9 264.2L292.7 262.9L294.4 261.6L296.2 260.4L298.0 259.1L299.8 257.9L301.6 256.7L303.4 255.4L305.3 254.3L307.1 253.1L309.0 251.9L310.8 250.7L312.7 249.6L314.6 248.4L316.5 247.3L318.4 246.2L320.3 245.0L322.2 243.9L324.1 242.8L326.0 241.6L328.0 240.5L329.9 239.4L331.8 238.2L333.7 237.1L335.6 236.0L337.5 234.8L339.4 233.7L341.2 232.5L343.1 231.4L345.0 230.2L346.8 229.0L348.7 227.8L350.5 226.6L352.3 225.4L354.1 224.1L355.9 222.9L357.6 221.6L359.4 220.3L361.1 219.0L362.8 217.7L364.5 216.3L366.2 214.9L367.8 213.5L369.4 212.1L371.0 210.7L372.6 209.3L374.2 207.8L375.8 206.3L377.3 204.8L378.9 203.3L380.4 201.8L381.9 200.3L383.4 198.8L384.9 197.2L386.4 195.7L387.8 194.1L389.3 192.5L390.8 191.0L392.2 189.4L393.7 187.8L395.1 186.2L396.6 184.6L398.0 183.0L399.5 181.4L400.9 179.8L402.3 178.2L403.8 176.7L405.2 175.1L406.7 173.5L408.1 171.9L409.6 170.3L411.1 168.7L412.5 167.2L414.0 165.6L415.5 164.1L417.0 162.5L418.5 161.0L420.0 159.5L421.5 158.0L423.1 156.5L424.6 155.0L426.2 153.5L427.8 152.0L429.3 150.5L430.8 149.0L432.3 147.5L433.9 146.0L435.4 144.5L436.9 143.0L438.5 141.5L440.0 140.0L441.5 138.5L443.1 137.0L444.6 135.5L446.1 134.0L447.7 132.5L449.2 131.0L450.7 129.5L452.3 128.0L453.8 126.5L455.3 125.0L456.9 123.5L458.4 121.9L459.9 120.4L461.4 118.9L463.0 117.4L464.5 115.9L466.0 114.4L467.6 112.9L469.1 111.4L470.6 109.9L472.2 108.4L473.7 106.9L475.2 105.4L489.3 274.1L487.6 275.4L486.0 276.8L484.3 278.2L482.6 279.5L480.9 280.9L479.2 282.2L477.5 283.6L475.9 284.9L474.2 286.3L472.5 287.6L470.8 289.0L469.1 290.3L467.5 291.7L465.8 293.1L464.1 294.4L462.4 295.8L460.7 297.1L459.0 298.5L457.4 299.8L455.7 301.2L454.0 302.5L452.3 303.9L450.6 305.2L448.9 306.6L447.3 308.0L445.6 309.3L443.9 310.7L442.2 312.0L440.5 313.4L438.9 314.7L437.2 316.1L435.5 317.4L433.8 318.8L432.1 320.1L430.4 321.5L428.7 322.8L427.1 324.2L425.4 325.5L423.7 326.9L422.0 328.3L420.4 329.6L418.7 331.0L417.1 332.4L415.4 333.8L413.7 335.2L412.1 336.6L410.5 337.9L408.8 339.3L407.2 340.7L405.5 342.1L403.9 343.5L402.3 344.9L400.6 346.3L399.0 347.8L397.4 349.2L395.8 350.6L394.1 352.0L392.5 353.4L390.9 354.8L389.3 356.3L387.7 357.7L386.1 359.1L384.5 360.5L382.9 362.0L381.3 363.4L379.7 364.8L378.1 366.3L376.5 367.7L374.9 369.2L373.3 370.6L371.7 372.1L370.1 373.5L368.5 375.0L366.9 376.4L365.4 377.9L363.8 379.3L362.2 380.8L360.6 382.3L359.1 383.7L357.5 385.2L355.9 386.7L354.4 388.1L352.8 389.6L351.2 391.1L349.6 392.5L348.1 394.0L346.5 395.4L344.9 396.9L343.3 398.4L341.7 399.8L340.2 401.3L338.6 402.7L337.0 404.2L335.4 405.6L333.8 407.0L332.2 408.5L330.6 409.9L329.0 411.4L327.4 412.8L325.8 414.2L324.2 415.7L322.6 417.1L321.0 418.5L319.4 420.0L317.8 421.4L316.2 422.8L314.6 424.3L313.0 425.7L311.4 427.1L309.8 428.6L308.2 430.0L306.6 431.4L305.0 432.9L303.4 434.3L301.8 435.7L300.2 437.2L298.6 438.6L297.0 440.1L295.4 441.5L293.8 442.9L292.2 444.4L290.6 445.8L289.0 447.2L287.4 448.7L285.8 450.1L284.2 451.5L282.6 453.0L281.0 454.4L279.4 455.9L277.8 457.3L276.2 458.7L274.6 460.2L273.0 461.6L271.4 463.0Z" fill="#0BB4D0"/>
<path d="M-6.1 331.9L-4.4 330.5L-2.7 329.2L-1.0 327.8L0.6 326.5L2.3 325.1L4.0 323.7L5.7 322.4L7.4 321.0L9.0 319.7L10.7 318.3L12.4 316.9L14.1 315.6L15.7 314.2L17.4 312.9L19.1 311.5L20.8 310.1L22.4 308.8L24.1 307.4L25.8 306.1L27.5 304.7L29.2 303.3L30.8 302.0L32.5 300.6L34.2 299.3L35.9 297.9L37.5 296.5L39.2 295.2L40.9 293.8L42.6 292.5L44.3 291.1L45.9 289.7L47.6 288.4L49.3 287.1L51.0 285.7L52.7 284.4L54.4 283.0L56.1 281.7L57.7 280.3L59.4 278.9L61.0 277.5L62.7 276.1L64.3 274.7L65.9 273.3L67.5 271.9L69.1 270.4L70.7 269.0L72.3 267.5L73.9 266.1L75.5 264.6L77.0 263.2L78.6 261.7L80.1 260.2L81.7 258.7L83.3 257.2L84.9 255.8L86.5 254.4L88.1 253.0L89.8 251.6L91.4 250.2L93.1 248.9L94.8 247.5L96.5 246.1L98.1 244.8L99.8 243.4L101.5 242.1L103.1 240.7L104.8 239.3L106.4 237.9L108.1 236.5L109.7 235.1L111.3 233.7L112.9 232.2L114.5 230.8L116.1 229.3L117.7 227.9L119.2 226.4L120.8 224.9L122.3 223.4L123.9 222.0L125.5 220.5L127.0 219.0L128.6 217.5L130.2 216.1L131.7 214.6L133.3 213.2L134.9 211.7L136.5 210.3L138.1 208.9L139.8 207.5L141.5 206.1L143.2 204.8L144.9 203.5L146.6 202.2L148.4 200.9L150.2 199.7L152.0 198.5L153.9 197.3L155.7 196.1L157.5 194.8L159.3 193.6L161.1 192.4L162.9 191.1L164.6 189.8L166.4 188.5L168.1 187.2L169.8 185.9L171.5 184.5L173.1 183.1L174.7 181.7L176.3 180.2L177.9 178.8L179.4 177.3L180.9 175.7L182.3 174.1L183.8 172.5L185.1 170.9L186.5 169.2L187.8 167.4L189.0 165.6L190.3 163.8L191.4 162.0L192.6 160.1L193.7 158.2L194.8 156.2L195.8 154.2L196.9 152.2L197.9 150.2L198.9 148.1L199.8 146.1L200.8 144.0L201.7 141.9L202.6 139.8L203.5 137.6L204.4 135.5L205.3 133.3L206.2 131.2L207.0 129.0L207.9 126.9L208.8 124.7L209.7 122.5L210.5 120.4L211.4 118.2L212.3 116.1L213.2 113.9L214.1 111.8L215.1 109.7L216.0 107.6L217.0 105.6L218.0 103.5L219.0 101.5L220.0 99.5L221.0 97.5L222.1 95.5L223.2 93.6L224.3 91.7L225.5 89.8L226.6 87.9L227.8 86.1L229.0 84.2L230.3 82.4L231.5 80.6L232.8 78.9L234.0 77.1L235.3 75.4L236.7 73.7L238.0 72.0L239.4 70.3L240.7 68.6L242.1 67.0L243.5 65.3L244.9 63.7L246.4 62.1L247.8 60.5L249.3 58.9L250.7 57.4L252.2 55.8L253.7 54.3L255.2 52.8L256.8 51.2L258.3 49.7L259.8 48.2L261.4 46.8L263.0 45.3L264.5 43.8L266.1 42.4L267.7 40.9L269.3 39.5L270.9 38.1L272.5 36.6L274.1 35.2L275.8 33.8L277.4 32.4L279.0 31.0L280.7 29.6L282.3 28.2L283.9 26.8L285.5 25.3L287.1 23.9L288.8 22.5L290.4 21.1L292.0 19.7L293.6 18.3L295.2 16.8L296.8 15.4L298.5 14.0L300.1 12.6L301.7 11.2L303.3 9.7L304.9 8.3L306.5 6.9L308.2 5.5L309.8 4.1L311.4 2.6L313.0 1.2L314.6 -0.2L316.3 -1.6L317.9 -3.0L319.5 -4.5L321.1 -5.9L322.7 -7.3L324.3 -8.7L326.0 -10.1L327.6 -11.5L329.2 -13.0L330.8 -14.4L189.0 -25.4L187.7 -23.7L186.4 -22.0L185.0 -20.3L183.7 -18.6L182.4 -16.8L181.1 -15.1L179.8 -13.4L178.5 -11.7L177.1 -10.0L175.8 -8.3L174.5 -6.5L173.2 -4.8L171.9 -3.1L170.6 -1.4L169.2 0.3L167.9 2.1L166.6 3.8L165.3 5.5L164.0 7.2L162.6 8.9L161.3 10.6L160.0 12.4L158.7 14.1L157.4 15.8L156.1 17.5L154.7 19.2L153.4 21.0L152.1 22.7L150.8 24.4L149.5 26.1L148.2 27.8L146.8 29.6L145.5 31.3L144.2 33.0L142.9 34.7L141.6 36.5L140.3 38.2L139.0 39.9L137.6 41.6L136.3 43.3L134.9 45.0L133.6 46.7L132.2 48.3L130.9 50.0L129.5 51.7L128.1 53.4L126.8 55.0L125.4 56.7L124.0 58.3L122.6 60.0L121.2 61.6L119.9 63.3L118.5 64.9L117.1 66.6L115.7 68.2L114.3 69.8L112.9 71.5L111.5 73.1L110.0 74.7L108.6 76.3L107.2 78.0L105.8 79.6L104.4 81.2L103.0 82.8L101.5 84.4L100.1 86.1L98.7 87.7L97.3 89.3L95.8 90.9L94.4 92.5L93.0 94.1L91.6 95.7L90.1 97.3L88.7 98.9L87.3 100.5L85.9 102.1L84.4 103.8L83.0 105.4L81.6 107.0L80.1 108.6L78.7 110.2L77.3 111.8L75.9 113.4L74.4 115.0L73.0 116.6L71.6 118.3L70.2 119.9L68.8 121.5L67.4 123.1L66.0 124.8L64.5 126.4L63.1 128.0L61.7 129.6L60.3 131.3L58.9 132.9L57.5 134.6L56.2 136.2L54.8 137.9L53.4 139.5L52.0 141.2L50.6 142.8L49.3 144.5L47.9 146.1L46.5 147.8L45.1 149.4L43.7 151.1L42.3 152.7L40.9 154.4L39.6 156.0L38.2 157.7L36.8 159.3L35.4 161.0L34.0 162.6L32.6 164.3L31.2 165.9L29.9 167.6L28.5 169.2L27.1 170.9L25.7 172.5L24.3 174.2L22.9 175.8L21.6 177.5L20.2 179.1L18.8 180.8L17.4 182.4L16.0 184.1L14.6 185.8L13.2 187.4L11.9 189.1L10.5 190.7L9.1 192.4L7.7 194.0L6.3 195.7L4.9 197.3ZM124.3 461.9L125.7 460.2L127.0 458.6L128.4 456.9L129.8 455.2L131.1 453.6L132.5 451.9L133.8 450.2L135.2 448.5L136.6 446.9L137.9 445.2L139.3 443.5L140.7 441.8L142.0 440.2L143.4 438.5L144.8 436.8L146.1 435.2L147.5 433.5L148.8 431.8L150.2 430.1L151.6 428.5L152.9 426.8L154.3 425.1L155.7 423.4L157.0 421.8L158.4 420.1L159.7 418.4L161.1 416.7L162.5 415.1L163.8 413.4L165.2 411.7L166.6 410.1L167.9 408.4L169.3 406.7L170.6 405.0L171.9 403.3L173.3 401.6L174.7 400.0L176.0 398.3L177.4 396.6L178.8 395.0L180.2 393.4L181.6 391.7L183.1 390.1L184.5 388.5L185.9 386.9L187.4 385.3L188.8 383.7L190.3 382.2L191.8 380.6L193.2 379.0L194.7 377.5L196.2 376.0L197.7 374.4L199.2 372.8L200.6 371.2L202.0 369.6L203.4 368.0L204.8 366.3L206.2 364.7L207.6 363.0L208.9 361.3L210.3 359.7L211.6 358.0L213.0 356.3L214.4 354.7L215.8 353.0L217.1 351.3L218.5 349.7L219.9 348.1L221.4 346.4L222.8 344.8L224.2 343.2L225.7 341.7L227.1 340.1L228.6 338.5L230.1 337.0L231.6 335.4L233.0 333.8L234.5 332.3L236.0 330.7L237.5 329.2L239.0 327.6L240.4 326.1L241.9 324.5L243.4 322.9L244.8 321.3L246.2 319.7L247.6 318.1L249.0 316.4L250.4 314.8L251.7 313.1L253.1 311.4L254.4 309.6L255.6 307.9L256.9 306.1L258.1 304.2L259.3 302.4L260.5 300.6L261.7 298.8L263.0 297.0L264.2 295.2L265.5 293.4L266.8 291.7L268.1 289.9L269.4 288.2L270.7 286.5L272.1 284.9L273.5 283.2L274.9 281.6L276.4 280.0L277.8 278.5L279.4 276.9L280.9 275.5L282.5 274.0L284.1 272.6L285.8 271.2L287.5 269.9L289.2 268.6L291.0 267.3L292.8 266.1L294.7 264.9L296.6 263.8L298.5 262.7L300.5 261.6L302.4 260.6L304.5 259.5L306.5 258.5L308.5 257.5L310.6 256.6L312.7 255.6L314.8 254.7L317.0 253.8L319.1 252.9L321.2 252.0L323.4 251.1L325.6 250.2L327.7 249.4L329.9 248.5L332.1 247.6L334.2 246.8L336.4 245.9L338.5 245.0L340.7 244.1L342.8 243.2L345.0 242.3L347.1 241.4L349.2 240.4L351.2 239.5L353.3 238.5L355.3 237.5L357.3 236.5L359.3 235.4L361.3 234.3L363.2 233.2L365.2 232.1L367.1 231.0L368.9 229.8L370.8 228.6L372.6 227.4L374.4 226.2L376.2 225.0L378.0 223.7L379.8 222.4L381.5 221.1L383.2 219.8L384.9 218.5L386.6 217.1L388.3 215.8L389.9 214.4L391.6 213.0L393.2 211.6L394.8 210.2L396.4 208.7L398.0 207.3L399.6 205.8L401.1 204.3L402.7 202.8L404.2 201.3L405.7 199.8L407.2 198.3L408.7 196.7L410.2 195.2L411.7 193.6L413.1 192.0L414.6 190.5L416.0 188.9L417.5 187.3L418.9 185.7L420.3 184.1L421.8 182.5L423.2 180.8L424.6 179.2L426.0 177.6L427.4 175.9L428.8 174.3L430.2 172.7L431.7 171.1L433.1 169.5L434.5 167.9L435.9 166.3L437.4 164.7L438.8 163.0L440.2 161.4L441.6 159.8L443.0 158.2L444.5 156.6L445.9 155.0L447.3 153.4L448.7 151.7L450.2 150.1L451.6 148.5L453.0 146.9L454.4 145.3L455.9 143.7L457.3 142.1L458.7 140.5L460.1 138.8L461.5 137.2L463.0 135.6L464.4 134.0L465.8 132.4L467.2 130.8L468.7 129.2L470.1 127.5L471.5 125.9L482.6 267.4L480.9 268.7L479.1 270.0L477.4 271.3L475.7 272.6L474.0 273.9L472.2 275.3L470.5 276.6L468.8 277.9L467.1 279.2L465.4 280.5L463.6 281.8L461.9 283.1L460.2 284.5L458.5 285.8L456.7 287.1L455.0 288.4L453.3 289.7L451.6 291.0L449.9 292.3L448.1 293.7L446.4 295.0L444.7 296.3L443.0 297.6L441.2 298.9L439.5 300.2L437.8 301.5L436.1 302.9L434.3 304.2L432.6 305.5L430.9 306.8L429.2 308.1L427.4 309.4L425.7 310.7L424.0 312.0L422.2 313.3L420.5 314.6L418.8 316.0L417.1 317.3L415.4 318.6L413.7 319.9L412.0 321.3L410.3 322.6L408.6 324.0L406.9 325.3L405.3 326.7L403.6 328.1L401.9 329.4L400.2 330.8L398.6 332.2L396.9 333.6L395.3 334.9L393.6 336.3L392.0 337.7L390.3 339.1L388.7 340.5L387.1 341.9L385.4 343.3L383.8 344.7L382.2 346.1L380.5 347.5L378.9 348.9L377.3 350.3L375.7 351.8L374.0 353.2L372.4 354.6L370.8 356.0L369.2 357.4L367.6 358.9L366.0 360.3L364.3 361.7L362.7 363.1L361.1 364.5L359.5 366.0L357.9 367.4L356.3 368.8L354.7 370.2L353.1 371.7L351.4 373.1L349.8 374.5L348.2 375.9L346.6 377.4L345.0 378.8L343.4 380.2L341.7 381.6L340.1 383.0L338.5 384.4L336.9 385.9L335.3 387.3L333.6 388.7L332.0 390.1L330.4 391.5L328.7 392.9L327.1 394.3L325.5 395.7L323.8 397.1L322.2 398.5L320.5 399.9L318.9 401.2L317.2 402.6L315.5 404.0L313.9 405.4L312.2 406.7L310.6 408.1L308.9 409.5L307.2 410.9L305.6 412.3L303.9 413.6L302.3 415.0L300.6 416.4L299.0 417.8L297.3 419.2L295.7 420.6L294.0 421.9L292.4 423.3L290.7 424.7L289.0 426.1L287.4 427.5L285.7 428.8L284.1 430.2L282.4 431.6L280.8 433.0L279.1 434.4L277.5 435.8L275.8 437.1L274.1 438.5L272.5 439.9L270.8 441.3L269.2 442.7L267.5 444.0L265.9 445.4L264.2 446.8L262.6 448.2L260.9 449.6L259.3 451.0Z" fill="#38C797"/>
<path d="M0.5 319.0L2.0 317.5L3.6 316.0L5.1 314.5L6.7 313.0L8.2 311.6L9.7 310.1L11.3 308.6L12.8 307.1L14.4 305.6L15.9 304.1L17.5 302.6L19.0 301.1L20.5 299.6L22.1 298.1L23.6 296.6L25.2 295.1L26.7 293.6L28.3 292.1L29.8 290.6L31.3 289.2L32.9 287.7L34.4 286.2L36.0 284.7L37.5 283.2L39.1 281.7L40.6 280.2L42.2 278.7L43.7 277.2L45.2 275.7L46.8 274.2L48.3 272.7L49.9 271.2L51.4 269.7L53.0 268.3L54.5 266.8L56.0 265.3L57.6 263.8L59.1 262.3L60.7 260.8L62.2 259.3L63.8 257.8L65.4 256.4L67.0 255.0L68.7 253.6L70.3 252.2L72.0 250.9L73.8 249.6L75.5 248.3L77.3 247.0L79.0 245.7L80.8 244.5L82.6 243.2L84.4 242.0L86.2 240.8L88.0 239.5L89.8 238.3L91.6 237.1L93.4 235.8L95.2 234.5L96.9 233.3L98.7 232.0L100.4 230.7L102.2 229.4L103.9 228.1L105.6 226.7L107.3 225.4L108.9 224.0L110.6 222.7L112.3 221.3L113.9 219.9L115.6 218.5L117.2 217.1L118.9 215.8L120.6 214.4L122.2 213.0L123.9 211.7L125.7 210.4L127.4 209.1L129.2 207.8L130.9 206.5L132.7 205.3L134.6 204.1L136.4 202.9L138.3 201.7L140.2 200.6L142.1 199.5L144.0 198.4L146.0 197.3L147.9 196.2L149.9 195.1L151.8 194.0L153.7 192.9L155.6 191.7L157.5 190.6L159.4 189.4L161.2 188.2L163.0 187.0L164.8 185.7L166.5 184.4L168.3 183.1L170.0 181.8L171.6 180.4L173.2 179.0L174.8 177.5L176.3 176.0L177.8 174.4L179.2 172.8L180.6 171.2L182.0 169.5L183.2 167.7L184.5 165.9L185.7 164.1L186.8 162.2L187.9 160.2L188.9 158.2L189.9 156.2L190.9 154.1L191.8 152.0L192.7 149.9L193.5 147.7L194.4 145.5L195.2 143.2L195.9 141.0L196.7 138.7L197.4 136.4L198.1 134.1L198.8 131.7L199.5 129.4L200.2 127.0L200.9 124.7L201.5 122.3L202.2 119.9L202.8 117.5L203.5 115.1L204.1 112.8L204.8 110.4L205.5 108.0L206.1 105.7L206.8 103.3L207.5 101.0L208.2 98.7L208.9 96.3L209.7 94.0L210.4 91.8L211.2 89.5L212.0 87.3L212.8 85.0L213.7 82.8L214.5 80.7L215.4 78.5L216.3 76.4L217.2 74.3L218.2 72.2L219.2 70.2L220.3 68.2L221.3 66.2L222.4 64.3L223.6 62.4L224.8 60.6L226.0 58.8L227.3 57.0L228.6 55.3L229.9 53.6L231.3 51.9L232.8 50.4L234.3 48.8L235.8 47.3L237.4 45.9L239.1 44.5L240.8 43.2L242.5 41.9L244.4 40.7L246.2 39.5L248.2 38.5L250.2 37.4L252.3 36.5L254.4 35.6L256.6 34.7L258.9 34.0L261.2 33.3L263.3 32.3L265.4 31.4L267.6 30.5L269.7 29.5L271.8 28.6L273.9 27.7L276.0 26.8L278.1 25.8L280.2 24.9L282.3 24.0L284.4 23.0L286.5 22.1L288.6 21.2L290.8 20.3L292.9 19.3L295.0 18.4L297.1 17.5L299.2 16.5L301.3 15.6L303.4 14.7L305.5 13.8L307.6 12.8L309.7 11.9L311.8 11.0L314.0 10.0L316.1 9.1L318.2 8.2L320.3 7.3L322.4 6.3L324.5 5.4L326.6 4.5L206.8 -22.8L205.4 -21.2L204.0 -19.6L202.6 -17.9L201.2 -16.3L199.8 -14.7L198.4 -13.0L197.0 -11.4L195.6 -9.7L194.2 -8.1L192.8 -6.5L191.4 -4.8L190.0 -3.2L188.6 -1.6L187.2 0.1L185.8 1.7L184.4 3.3L183.0 5.0L181.6 6.6L180.2 8.3L178.8 9.9L177.4 11.5L176.0 13.2L174.6 14.8L173.2 16.4L171.8 18.1L170.4 19.7L169.0 21.3L167.6 23.0L166.2 24.6L164.8 26.3L163.4 27.9L162.0 29.5L160.6 31.2L159.2 32.8L157.8 34.4L156.4 36.1L155.0 37.7L153.6 39.3L152.2 41.0L150.8 42.6L149.4 44.3L148.1 45.9L146.7 47.6L145.3 49.2L143.9 50.9L142.6 52.6L141.2 54.2L139.8 55.9L138.5 57.6L137.1 59.3L135.7 60.9L134.4 62.6L133.0 64.3L131.7 66.0L130.3 67.7L129.0 69.4L127.6 71.1L126.3 72.7L125.0 74.4L123.6 76.1L122.3 77.9L121.0 79.6L119.6 81.3L118.3 83.0L117.0 84.7L115.7 86.4L114.4 88.1L113.1 89.9L111.7 91.6L110.4 93.3L109.1 95.0L107.8 96.8L106.5 98.5L105.2 100.2L103.9 102.0L102.6 103.7L101.4 105.5L100.1 107.2L98.8 109.0L97.5 110.7L96.2 112.5L94.9 114.2L93.7 116.0L92.4 117.8L91.1 119.5L89.9 121.3L88.6 123.1L87.3 124.8L86.1 126.6L84.8 128.4L83.6 130.2L82.3 132.0L81.1 133.7L79.8 135.5L78.6 137.3L77.3 139.1L76.1 140.9L74.8 142.7L73.6 144.5L72.4 146.3L71.1 148.1L69.9 149.9L68.7 151.7L67.5 153.5L66.2 155.4L65.0 157.2L63.8 159.0L62.6 160.8L61.4 162.6L60.2 164.5L59.0 166.3L57.7 168.1L56.5 169.9L55.3 171.8L54.1 173.6L52.9 175.5L51.8 177.3L50.6 179.1L49.4 181.0L48.2 182.8L47.0 184.7L45.8 186.5L44.6 188.3L43.4 190.2L42.2 192.0L41.0 193.8L39.8 195.7L38.6 197.5L37.4 199.4L36.2 201.2L35.0 203.0L33.8 204.9L32.6 206.7L31.4 208.5L30.2 210.4L29.0 212.2L27.8 214.1L26.6 215.9L25.4 217.7L24.2 219.6L23.0 221.4L21.8 223.2L20.6 225.1L19.4 226.9L18.2 228.7L17.0 230.6L15.8 232.4L14.6 234.3L13.4 236.1L12.2 237.9L11.0 239.8ZM137.2 455.4L138.7 453.8L140.2 452.3L141.7 450.8L143.2 449.2L144.7 447.7L146.2 446.1L147.7 444.6L149.2 443.1L150.7 441.5L152.2 440.0L153.7 438.5L155.2 436.9L156.7 435.4L158.2 433.8L159.7 432.3L161.2 430.8L162.7 429.2L164.2 427.7L165.7 426.1L167.2 424.6L168.7 423.1L170.2 421.5L171.6 420.0L173.1 418.4L174.6 416.9L176.1 415.4L177.6 413.8L179.1 412.3L180.6 410.8L182.1 409.2L183.6 407.7L185.1 406.1L186.6 404.6L188.1 403.1L189.6 401.5L191.1 400.0L192.6 398.4L194.1 396.9L195.6 395.4L197.1 393.8L198.6 392.3L200.0 390.7L201.4 389.0L202.8 387.4L204.2 385.7L205.5 384.0L206.8 382.3L208.1 380.6L209.4 378.8L210.7 377.1L211.9 375.3L213.2 373.5L214.4 371.7L215.7 369.9L216.9 368.1L218.2 366.3L219.4 364.5L220.7 362.7L221.9 361.0L223.2 359.2L224.5 357.4L225.8 355.7L227.1 354.0L228.4 352.3L229.7 350.6L231.1 348.9L232.5 347.2L233.8 345.6L235.2 343.9L236.6 342.2L238.0 340.6L239.4 338.9L240.7 337.3L242.1 335.6L243.5 333.9L244.8 332.3L246.1 330.5L247.5 328.8L248.7 327.1L250.0 325.3L251.2 323.5L252.5 321.7L253.6 319.8L254.8 318.0L256.0 316.1L257.1 314.2L258.2 312.2L259.3 310.3L260.3 308.3L261.4 306.4L262.6 304.5L263.7 302.5L264.8 300.7L266.0 298.8L267.2 296.9L268.4 295.1L269.6 293.3L270.9 291.5L272.1 289.8L273.5 288.0L274.8 286.4L276.2 284.7L277.6 283.1L279.1 281.5L280.6 280.0L282.2 278.5L283.8 277.1L285.4 275.7L287.1 274.4L288.9 273.1L290.7 271.9L292.6 270.7L294.5 269.6L296.4 268.5L298.4 267.5L300.5 266.5L302.5 265.5L304.7 264.6L306.8 263.7L309.0 262.8L311.2 262.0L313.5 261.2L315.7 260.4L318.0 259.7L320.3 259.0L322.6 258.3L325.0 257.6L327.3 256.9L329.7 256.2L332.1 255.5L334.5 254.9L336.9 254.2L339.2 253.6L341.6 252.9L344.0 252.3L346.4 251.6L348.8 251.0L351.1 250.3L353.5 249.6L355.8 248.9L358.2 248.2L360.5 247.5L362.8 246.7L365.1 246.0L367.3 245.2L369.6 244.4L371.8 243.6L374.0 242.8L376.2 241.9L378.4 241.0L380.5 240.1L382.6 239.2L384.6 238.2L386.7 237.2L388.7 236.2L390.7 235.1L392.6 234.0L394.5 232.9L396.3 231.7L398.2 230.5L399.9 229.2L401.7 227.9L403.4 226.6L405.0 225.2L406.6 223.7L408.1 222.2L409.6 220.7L411.1 219.1L412.5 217.4L413.8 215.7L415.1 214.0L416.3 212.2L417.4 210.3L418.5 208.3L419.6 206.3L420.5 204.3L421.4 202.1L422.3 199.9L423.0 197.7L423.7 195.3L424.7 193.2L425.6 191.1L426.5 189.0L427.5 186.9L428.4 184.8L429.3 182.7L430.2 180.6L431.2 178.5L432.1 176.4L433.0 174.3L434.0 172.2L434.9 170.1L435.8 168.0L436.8 165.9L437.7 163.8L438.6 161.7L439.6 159.6L440.5 157.5L441.4 155.4L442.4 153.3L443.3 151.2L444.2 149.1L445.1 147.0L446.1 144.8L447.0 142.7L447.9 140.6L448.9 138.5L449.8 136.4L450.7 134.3L451.7 132.2L452.6 130.1L480.0 249.6L478.3 251.0L476.7 252.4L475.1 253.8L473.4 255.2L471.8 256.6L470.1 258.0L468.5 259.4L466.9 260.8L465.2 262.2L463.6 263.6L461.9 265.0L460.3 266.4L458.6 267.8L457.0 269.2L455.4 270.5L453.7 271.9L452.1 273.3L450.4 274.7L448.8 276.1L447.2 277.5L445.5 278.9L443.9 280.3L442.2 281.7L440.6 283.1L439.0 284.5L437.3 285.9L435.7 287.3L434.0 288.7L432.4 290.1L430.8 291.5L429.1 292.9L427.5 294.3L425.8 295.7L424.2 297.1L422.6 298.5L420.9 299.9L419.3 301.3L417.6 302.7L416.0 304.1L414.3 305.4L412.7 306.8L411.0 308.2L409.4 309.6L407.7 310.9L406.0 312.3L404.4 313.7L402.7 315.1L401.0 316.4L399.3 317.8L397.7 319.1L396.0 320.5L394.3 321.8L392.6 323.2L390.9 324.5L389.2 325.9L387.5 327.2L385.8 328.6L384.1 329.9L382.4 331.2L380.7 332.6L379.0 333.9L377.3 335.2L375.6 336.5L373.9 337.9L372.2 339.2L370.4 340.5L368.7 341.8L367.0 343.1L365.3 344.4L363.5 345.7L361.8 347.0L360.0 348.3L358.3 349.6L356.6 350.9L354.8 352.2L353.1 353.5L351.3 354.8L349.6 356.1L347.8 357.3L346.1 358.6L344.3 359.9L342.5 361.2L340.8 362.4L339.0 363.7L337.2 365.0L335.5 366.2L333.7 367.5L331.9 368.8L330.1 370.0L328.3 371.3L326.6 372.5L324.8 373.8L323.0 375.0L321.2 376.3L319.4 377.5L317.6 378.8L315.8 380.0L314.0 381.2L312.2 382.5L310.4 383.7L308.6 384.9L306.8 386.1L304.9 387.4L303.1 388.6L301.3 389.8L299.5 391.0L297.7 392.2L295.8 393.4L294.0 394.7L292.2 395.9L290.4 397.1L288.5 398.3L286.7 399.5L284.8 400.7L283.0 401.9L281.2 403.1L279.3 404.3L277.5 405.4L275.6 406.6L273.8 407.8L271.9 409.0L270.1 410.2L268.2 411.4L266.4 412.6L264.6 413.8L262.7 415.0L260.9 416.2L259.0 417.4L257.2 418.6L255.4 419.8L253.5 421.0L251.7 422.2L249.8 423.4L248.0 424.6L246.1 425.8L244.3 426.9L242.5 428.1L240.6 429.3L238.8 430.5L236.9 431.7L235.1 432.9L233.2 434.1L231.4 435.3L229.6 436.5L227.7 437.7L225.9 438.9L224.0 440.1L222.2 441.3L220.4 442.5L218.5 443.7L216.7 444.9Z" fill="#9CC945"/>
<path d="M-1.0 296.9L0.5 295.4L2.1 293.9L3.6 292.4L5.2 290.9L6.7 289.5L8.3 288.0L9.8 286.5L11.4 285.0L12.9 283.5L14.5 282.0L16.0 280.5L17.6 279.0L19.1 277.5L20.7 276.1L22.2 274.6L23.7 273.1L25.3 271.6L26.8 270.1L28.4 268.6L29.9 267.1L31.5 265.6L33.0 264.2L34.6 262.7L36.1 261.2L37.7 259.7L39.2 258.2L40.8 256.7L42.3 255.2L43.9 253.8L45.6 252.4L47.2 251.0L48.9 249.6L50.7 248.4L52.5 247.2L54.3 245.9L56.0 244.6L57.7 243.3L59.4 241.9L61.0 240.5L62.7 239.1L64.3 237.7L65.9 236.2L67.4 234.8L69.0 233.3L70.5 231.8L72.1 230.3L73.6 228.8L75.2 227.4L76.8 225.9L78.3 224.4L79.9 223.0L81.6 221.6L83.2 220.2L84.8 218.8L86.5 217.4L88.2 216.1L89.9 214.7L91.6 213.4L93.4 212.1L95.1 210.9L96.9 209.6L98.8 208.4L100.6 207.2L102.5 206.1L104.4 205.0L106.4 203.9L108.4 202.8L110.4 201.8L112.5 200.8L114.6 199.9L116.7 199.0L118.9 198.1L121.1 197.3L123.3 196.5L125.6 195.8L127.9 195.0L130.2 194.3L132.5 193.5L134.8 192.8L137.1 192.0L139.3 191.3L141.6 190.5L143.9 189.7L146.1 189.0L148.4 188.2L150.6 187.3L152.8 186.5L155.0 185.7L157.1 184.8L159.3 183.9L161.4 182.9L163.5 182.0L165.5 181.0L167.5 179.9L169.5 178.9L171.4 177.8L173.3 176.6L175.1 175.4L176.9 174.2L178.7 172.9L180.3 171.5L181.9 170.0L183.3 168.4L184.7 166.7L185.8 164.9L186.9 162.9L187.7 160.7L188.4 158.4L188.9 155.8L189.2 153.1L189.3 150.2L189.3 147.1L189.2 143.9L188.9 140.7L188.6 137.3L188.2 133.8L187.7 130.4L187.3 126.9L187.0 123.6L186.8 120.4L186.8 117.3L186.8 114.3L186.9 111.3L187.1 108.5L187.4 105.8L187.8 103.1L188.3 100.6L188.8 98.1L189.4 95.7L190.1 93.4L190.9 91.1L191.8 88.9L192.7 86.8L193.7 84.7L194.7 82.7L195.8 80.8L196.9 78.9L198.1 77.1L199.4 75.3L200.6 73.5L201.9 71.8L203.3 70.1L204.6 68.4L206.0 66.7L207.4 65.1L208.8 63.4L210.1 61.7L211.5 60.1L212.8 58.4L214.2 56.7L215.5 54.9L216.7 53.1L217.9 51.3L219.1 49.4L220.2 47.5L221.2 45.5L222.2 43.5L223.1 41.3L223.9 39.1L224.7 36.8L225.3 34.4L225.8 31.9L226.3 29.3L227.0 27.0L227.7 24.7L228.4 22.4L229.2 20.1L229.9 17.8L230.7 15.5L231.4 13.2L232.2 10.9L232.9 8.7L233.7 6.4L234.4 4.1L235.1 1.8L235.9 -0.5L236.6 -2.8L237.4 -5.1L238.1 -7.4L238.9 -9.7L239.6 -11.9L240.4 -14.2L241.1 -16.5L241.9 -18.8L242.6 -21.1L243.3 -23.4L244.1 -25.7L244.8 -28.0L245.6 -30.3L246.3 -32.6L247.1 -34.8L247.8 -37.1L248.6 -39.4L249.3 -41.7L250.0 -44.0L242.5 -15.7L240.9 -14.3L239.3 -12.9L237.7 -11.4L236.1 -10.0L234.5 -8.6L232.9 -7.1L231.3 -5.7L229.7 -4.3L228.1 -2.8L226.5 -1.4L224.9 0.0L223.3 1.5L221.7 2.9L220.1 4.3L218.5 5.8L216.9 7.2L215.3 8.6L213.7 10.1L212.1 11.5L210.5 12.9L208.9 14.4L207.3 15.8L205.6 17.2L204.0 18.7L202.4 20.1L200.8 21.6L199.2 23.0L197.6 24.4L196.0 25.9L194.4 27.3L192.8 28.7L191.2 30.1L189.6 31.5L188.0 33.0L186.4 34.4L184.8 35.8L183.2 37.3L181.6 38.7L180.0 40.2L178.4 41.7L176.9 43.1L175.3 44.6L173.8 46.1L172.2 47.6L170.7 49.1L169.2 50.6L167.6 52.1L166.1 53.6L164.6 55.2L163.1 56.7L161.6 58.3L160.1 59.8L158.7 61.4L157.2 62.9L155.7 64.5L154.3 66.1L152.8 67.7L151.4 69.2L149.9 70.8L148.5 72.4L147.1 74.0L145.6 75.7L144.2 77.3L142.8 78.9L141.4 80.5L140.0 82.2L138.6 83.8L137.2 85.5L135.9 87.1L134.5 88.8L133.1 90.5L131.8 92.1L130.4 93.8L129.0 95.5L127.7 97.2L126.3 98.9L125.0 100.6L123.7 102.3L122.4 104.0L121.0 105.7L119.7 107.4L118.4 109.1L117.1 110.9L115.8 112.6L114.5 114.3L113.2 116.1L111.9 117.8L110.6 119.6L109.3 121.3L108.1 123.1L106.8 124.9L105.5 126.6L104.3 128.4L103.0 130.2L101.8 132.0L100.5 133.7L99.3 135.5L98.0 137.3L96.8 139.1L95.5 140.9L94.3 142.7L93.1 144.5L91.9 146.3L90.6 148.2L89.4 150.0L88.2 151.8L87.0 153.6L85.8 155.5L84.6 157.3L83.4 159.1L82.2 161.0L81.0 162.8L79.8 164.7L78.6 166.5L77.4 168.3L76.3 170.2L75.1 172.1L73.9 173.9L72.7 175.8L71.6 177.6L70.4 179.5L69.2 181.4L68.1 183.3L66.9 185.1L65.7 187.0L64.6 188.9L63.4 190.8L62.3 192.6L61.1 194.5L60.0 196.4L58.8 198.3L57.7 200.2L56.5 202.1L55.4 204.0L54.3 205.9L53.1 207.8L52.0 209.7L50.9 211.6L49.7 213.5L48.6 215.4L47.5 217.3L46.3 219.2L45.2 221.1L44.0 223.0L42.9 224.9L41.8 226.8L40.6 228.7L39.5 230.6L38.4 232.5L37.2 234.4L36.1 236.3L34.9 238.2L33.8 240.1L32.7 242.0L31.5 243.9L30.4 245.8L29.3 247.7L28.1 249.6L27.0 251.4L25.9 253.3L24.7 255.2L23.6 257.1L22.4 259.0L21.3 260.9L20.2 262.8L19.0 264.7L17.9 266.6L16.8 268.5L15.6 270.4L14.5 272.3L13.3 274.2L12.2 276.1ZM159.4 456.9L160.9 455.3L162.4 453.8L163.9 452.3L165.4 450.7L166.9 449.2L168.3 447.6L169.8 446.1L171.3 444.5L172.8 443.0L174.3 441.4L175.8 439.9L177.3 438.4L178.8 436.8L180.3 435.3L181.8 433.7L183.3 432.2L184.8 430.6L186.3 429.1L187.7 427.5L189.2 426.0L190.7 424.5L192.2 422.9L193.7 421.4L195.2 419.8L196.7 418.3L198.2 416.7L199.7 415.2L201.2 413.6L202.6 412.0L204.0 410.4L205.4 408.8L206.8 407.1L208.0 405.3L209.2 403.5L210.5 401.7L211.8 400.0L213.2 398.3L214.5 396.6L215.9 395.0L217.3 393.4L218.8 391.8L220.2 390.2L221.7 388.6L223.2 387.1L224.6 385.5L226.1 384.0L227.6 382.4L229.1 380.9L230.6 379.3L232.0 377.7L233.5 376.1L234.9 374.5L236.3 372.9L237.7 371.3L239.1 369.6L240.4 367.9L241.8 366.2L243.1 364.5L244.4 362.7L245.7 361.0L246.9 359.2L248.1 357.4L249.3 355.5L250.5 353.6L251.6 351.7L252.7 349.8L253.7 347.8L254.7 345.8L255.7 343.7L256.6 341.6L257.5 339.5L258.4 337.3L259.2 335.1L260.0 332.9L260.8 330.6L261.5 328.3L262.3 326.0L263.0 323.7L263.8 321.5L264.5 319.2L265.3 316.9L266.1 314.6L266.8 312.4L267.6 310.1L268.4 307.9L269.2 305.7L270.1 303.5L270.9 301.3L271.8 299.1L272.7 297.0L273.7 294.9L274.6 292.8L275.6 290.8L276.7 288.8L277.7 286.8L278.8 284.9L280.0 283.0L281.2 281.2L282.4 279.4L283.7 277.7L285.1 276.0L286.6 274.5L288.2 273.0L289.9 271.7L291.8 270.5L293.8 269.5L295.9 268.6L298.3 267.9L300.9 267.5L303.6 267.2L306.5 267.0L309.6 267.0L312.8 267.2L316.1 267.4L319.4 267.8L322.9 268.2L326.4 268.6L329.8 269.0L333.1 269.3L336.4 269.5L339.5 269.6L342.5 269.6L345.5 269.5L348.3 269.3L351.0 269.0L353.7 268.6L356.2 268.1L358.7 267.6L361.1 266.9L363.5 266.2L365.7 265.4L367.9 264.6L370.0 263.7L372.1 262.7L374.1 261.7L376.1 260.6L378.0 259.5L379.8 258.3L381.6 257.0L383.4 255.8L385.1 254.5L386.8 253.1L388.5 251.8L390.2 250.4L391.8 249.0L393.5 247.7L395.2 246.3L396.8 244.9L398.5 243.6L400.3 242.3L402.0 241.0L403.8 239.7L405.6 238.5L407.5 237.4L409.4 236.3L411.4 235.2L413.5 234.2L415.6 233.3L417.9 232.5L420.2 231.8L422.6 231.2L425.1 230.6L427.7 230.2L430.0 229.5L432.3 228.8L434.6 228.0L436.9 227.3L439.2 226.5L441.5 225.8L443.8 225.1L446.1 224.3L448.4 223.6L450.7 222.8L453.0 222.1L455.3 221.3L457.6 220.6L459.9 219.9L462.2 219.1L464.5 218.4L466.8 217.6L469.1 216.9L471.4 216.1L473.6 215.4L475.9 214.7L478.2 213.9L480.5 213.2L482.8 212.4L485.1 211.7L487.4 210.9L489.7 210.2L492.0 209.5L494.3 208.7L496.6 208.0L498.9 207.2L501.2 206.5L475.3 216.4L473.8 218.0L472.4 219.6L471.0 221.2L469.5 222.8L468.1 224.4L466.7 226.0L465.2 227.6L463.8 229.2L462.3 230.8L460.9 232.4L459.5 234.0L458.0 235.6L456.6 237.2L455.2 238.8L453.7 240.4L452.3 242.0L450.8 243.6L449.4 245.2L448.0 246.8L446.5 248.4L445.1 250.0L443.7 251.6L442.2 253.2L440.8 254.8L439.3 256.4L437.9 258.0L436.5 259.6L435.0 261.2L433.6 262.8L432.2 264.4L430.7 266.0L429.3 267.6L427.9 269.2L426.5 270.8L425.0 272.4L423.6 274.0L422.1 275.6L420.7 277.2L419.2 278.8L417.8 280.3L416.3 281.9L414.8 283.4L413.3 285.0L411.8 286.5L410.3 288.1L408.8 289.6L407.3 291.1L405.7 292.6L404.2 294.1L402.7 295.6L401.1 297.1L399.6 298.6L398.0 300.0L396.4 301.5L394.8 303.0L393.3 304.4L391.7 305.9L390.1 307.3L388.5 308.8L386.9 310.2L385.3 311.6L383.6 313.0L382.0 314.4L380.4 315.9L378.8 317.3L377.1 318.6L375.5 320.0L373.8 321.4L372.2 322.8L370.5 324.2L368.8 325.5L367.1 326.9L365.5 328.2L363.8 329.6L362.1 330.9L360.4 332.3L358.7 333.6L357.0 334.9L355.3 336.3L353.5 337.6L351.8 338.9L350.1 340.2L348.4 341.5L346.6 342.8L344.9 344.1L343.1 345.4L341.4 346.7L339.6 348.0L337.9 349.2L336.1 350.5L334.3 351.8L332.6 353.0L330.8 354.3L329.0 355.6L327.2 356.8L325.4 358.1L323.6 359.3L321.8 360.5L320.0 361.8L318.2 363.0L316.4 364.2L314.6 365.5L312.8 366.7L311.0 367.9L309.1 369.1L307.3 370.3L305.5 371.5L303.6 372.7L301.8 373.9L300.0 375.1L298.1 376.3L296.3 377.5L294.4 378.7L292.6 379.9L290.7 381.1L288.9 382.2L287.0 383.4L285.1 384.6L283.3 385.8L281.4 386.9L279.5 388.1L277.6 389.3L275.8 390.4L273.9 391.6L272.0 392.7L270.1 393.9L268.2 395.0L266.4 396.2L264.5 397.3L262.6 398.5L260.7 399.6L258.8 400.8L256.9 401.9L255.0 403.0L253.1 404.2L251.2 405.3L249.3 406.4L247.4 407.6L245.5 408.7L243.6 409.8L241.7 411.0L239.8 412.1L237.8 413.2L235.9 414.4L234.0 415.5L232.1 416.6L230.2 417.8L228.3 418.9L226.4 420.0L224.5 421.2L222.6 422.3L220.7 423.4L218.8 424.6L216.9 425.7L215.0 426.8L213.1 428.0L211.2 429.1L209.3 430.2L207.4 431.4L205.5 432.5L203.6 433.6L201.7 434.8L199.8 435.9L197.9 437.0L196.0 438.2L194.1 439.3L192.2 440.4L190.3 441.6L188.4 442.7L186.5 443.9L184.6 445.0L182.7 446.1Z" fill="#F7BA3C"/>
<path d="M145.5 129.5C149.9 129.4 158.3 130.8 163.1 131.9C167.9 133.0 171.1 134.5 174.0 136.1C177.0 137.7 179.3 139.2 180.7 141.6C182.2 144.0 182.7 147.7 182.6 150.7C182.5 153.7 182.2 156.5 180.1 159.8C178.1 163.0 174.5 167.1 170.4 170.1C166.3 173.1 160.6 176.9 155.8 178.0C151.0 179.1 145.9 178.6 141.8 176.8C137.8 174.9 134.3 171.4 131.5 167.1C128.6 162.7 125.2 155.1 124.8 150.7C124.4 146.2 127.1 143.4 129.0 140.4C131.0 137.3 133.6 134.3 136.3 132.5C139.1 130.7 141.0 129.6 145.5 129.5Z" fill="#F5E52A"/>
<path d="M327.3 310.8C327.4 306.3 326.0 298.0 324.8 293.2C323.7 288.4 322.2 285.2 320.6 282.3C319.0 279.4 317.5 277.0 315.1 275.6C312.7 274.2 309.0 273.7 306.0 273.8C303.0 273.9 300.1 274.2 296.9 276.2C293.6 278.2 289.6 281.9 286.5 285.9C283.5 290.0 279.7 295.7 278.6 300.5C277.5 305.2 278.0 310.4 279.8 314.4C281.7 318.5 285.2 321.9 289.6 324.7C293.9 327.6 301.5 331.0 306.0 331.4C310.5 331.8 313.3 329.1 316.3 327.2C319.4 325.2 322.4 322.6 324.2 319.9C326.1 317.2 327.2 315.2 327.3 310.8Z" fill="#F5E52A"/>
<path d="M79.2 362.3C79.2 360.0 79.0 358.1 79.8 355.1C80.6 352.0 82.3 348.1 84.1 344.1C85.8 340.2 87.7 335.7 90.1 331.4C92.6 327.2 96.0 322.8 98.6 318.7C101.3 314.5 103.4 310.2 105.9 306.5C108.5 302.9 110.9 300.5 113.8 296.8C116.8 293.2 120.6 288.8 123.6 284.7C126.5 280.7 128.7 276.6 131.5 272.6C134.2 268.5 137.3 264.5 140.0 260.5C142.7 256.4 145.2 252.2 147.7 248.3C150.1 244.5 152.2 241.2 154.6 237.4C157.0 233.6 159.9 229.5 161.9 225.3C163.9 221.0 165.2 216.0 166.7 211.9C168.3 207.9 169.5 204.5 171.0 201.0C172.5 197.6 174.1 194.6 175.9 191.3C177.6 188.1 179.2 184.7 181.3 181.6C183.5 178.5 186.1 175.3 188.6 172.5C191.2 169.7 193.5 167.2 196.5 164.6C199.6 162.1 203.5 159.5 206.9 157.4C210.2 155.2 213.8 153.3 216.6 151.9C219.4 150.5 221.3 150.0 223.9 148.9C226.5 147.8 229.0 147.3 232.4 145.2C235.9 143.1 240.5 139.1 244.6 136.1C248.6 133.2 252.7 130.6 256.7 127.6C260.8 124.7 264.8 121.4 268.9 118.5C273.0 115.7 277.8 112.7 281.1 110.7C284.3 108.6 285.5 108.1 288.4 106.4C291.2 104.7 294.4 102.8 298.1 100.3C301.7 97.9 305.9 94.9 310.3 91.9C314.6 88.8 319.6 85.2 324.2 82.2C328.9 79.1 333.3 76.5 338.2 73.7C343.2 70.8 349.4 67.7 354.0 65.2C358.7 62.6 362.1 60.9 366.2 58.5C370.2 56.1 374.3 52.9 378.4 50.6C382.4 48.3 386.5 46.2 390.5 44.6C394.6 42.9 399.2 41.4 402.7 40.9C406.1 40.4 408.9 40.5 411.2 41.5C413.5 42.5 416.0 44.0 416.7 47.0C417.4 49.9 416.2 55.3 415.4 59.1C414.7 63.0 413.6 66.4 412.4 70.0C411.2 73.7 409.8 77.4 408.2 80.9C406.5 84.5 404.7 87.6 402.7 91.3C400.7 94.9 398.5 98.3 396.0 102.8C393.5 107.2 390.2 113.4 387.5 117.9C384.7 122.5 382.1 125.9 379.6 130.1C377.0 134.2 374.6 139.0 372.3 142.8C369.9 146.6 367.8 149.6 365.6 153.1C363.4 156.6 361.4 160.9 358.9 164.0C356.4 167.2 353.2 169.4 350.4 171.9C347.5 174.4 344.3 176.6 341.9 179.2C339.4 181.8 337.8 184.8 335.8 187.7C333.8 190.5 331.7 193.3 329.7 196.2C327.7 199.0 325.7 201.8 323.6 204.7C321.6 207.5 319.4 210.5 317.5 213.1C315.7 215.8 313.9 218.2 312.7 220.4C311.5 222.6 311.0 224.1 310.3 226.5C309.5 228.9 309.6 231.7 308.4 235.0C307.2 238.2 305.1 242.5 303.0 245.9C300.8 249.3 298.3 252.6 295.7 255.6C293.0 258.6 290.4 261.3 287.1 264.1C283.9 266.9 279.8 270.2 276.2 272.6C272.6 275.0 268.9 276.7 265.3 278.6C261.6 280.6 257.9 282.4 254.3 284.1C250.8 285.8 247.4 287.3 244.0 289.0C240.5 290.6 237.6 291.7 233.6 293.8C229.7 295.9 224.5 299.1 220.3 301.7C216.0 304.3 212.2 306.9 208.1 309.6C204.0 312.2 200.0 314.8 195.9 317.5C191.9 320.1 187.8 322.7 183.8 325.3C179.7 328.0 175.7 330.5 171.6 333.2C167.6 336.0 163.5 338.8 159.5 341.7C155.4 344.6 151.3 347.7 147.3 350.8C143.2 353.9 139.0 357.6 135.1 360.5C131.3 363.4 127.5 366.3 124.2 368.4C120.8 370.5 118.4 371.8 115.1 373.3C111.7 374.7 107.7 376.1 104.1 376.9C100.6 377.7 97.0 378.4 93.8 378.1C90.5 377.8 87.0 376.6 84.7 375.1C82.3 373.6 80.7 371.1 79.8 369.0C78.9 366.9 79.2 364.7 79.2 362.3Z" fill="#3D27A8"/>
</g>
<g fill="#000"><circle cx="50.0" cy="30.0" r="1.60"/><circle cx="62.2" cy="30.0" r="1.60"/><circle cx="74.3" cy="30.0" r="1.60"/><circle cx="86.5" cy="30.0" r="1.60"/><circle cx="98.6" cy="30.0" r="1.60"/><circle cx="110.8" cy="30.0" r="1.60"/><circle cx="123.0" cy="30.0" r="1.60"/><circle cx="135.1" cy="30.0" r="1.60"/><circle cx="147.3" cy="30.0" r="1.60"/><circle cx="159.5" cy="30.0" r="1.60"/><circle cx="171.6" cy="30.0" r="1.60"/><circle cx="183.8" cy="30.0" r="1.60"/><circle cx="195.9" cy="30.0" r="1.60"/><circle cx="208.1" cy="30.0" r="1.60"/><circle cx="220.3" cy="30.0" r="1.60"/><circle cx="232.4" cy="30.0" r="1.60"/><circle cx="244.6" cy="30.0" r="1.60"/><circle cx="256.7" cy="30.0" r="1.60"/><circle cx="268.9" cy="30.0" r="1.60"/><circle cx="281.1" cy="30.0" r="1.60"/><circle cx="293.2" cy="30.0" r="1.60"/><circle cx="305.4" cy="30.0" r="1.60"/><circle cx="317.5" cy="30.0" r="1.60"/><circle cx="329.7" cy="30.0" r="1.60"/><circle cx="341.9" cy="30.0" r="1.60"/><circle cx="354.0" cy="30.0" r="1.60"/><circle cx="366.2" cy="30.0" r="1.60"/><circle cx="378.4" cy="30.0" r="1.60"/><circle cx="390.5" cy="30.0" r="1.60"/><circle cx="402.7" cy="30.0" r="1.60"/><circle cx="414.8" cy="30.0" r="1.60"/><circle cx="427.0" cy="30.0" r="1.60"/><circle cx="50.0" cy="42.1" r="1.60"/><circle cx="62.2" cy="42.1" r="1.60"/><circle cx="74.3" cy="42.1" r="1.60"/><circle cx="86.5" cy="42.1" r="1.60"/><circle cx="98.6" cy="42.1" r="1.60"/><circle cx="110.8" cy="42.1" r="1.60"/><circle cx="123.0" cy="42.1" r="1.60"/><circle cx="135.1" cy="42.1" r="1.60"/><circle cx="147.3" cy="42.1" r="1.60"/><circle cx="159.5" cy="42.1" r="1.60"/><circle cx="171.6" cy="42.1" r="1.60"/><circle cx="183.8" cy="42.1" r="1.60"/><circle cx="195.9" cy="42.1" r="1.60"/><circle cx="208.1" cy="42.1" r="1.60"/><circle cx="220.3" cy="42.1" r="1.60"/><circle cx="232.4" cy="42.1" r="1.60"/><circle cx="244.6" cy="42.1" r="1.60"/><circle cx="256.7" cy="42.1" r="1.60"/><circle cx="268.9" cy="42.1" r="1.60"/><circle cx="281.1" cy="42.1" r="1.60"/><circle cx="293.2" cy="42.1" r="1.60"/><circle cx="305.4" cy="42.1" r="1.60"/><circle cx="317.5" cy="42.1" r="1.60"/><circle cx="329.7" cy="42.1" r="1.60"/><circle cx="341.9" cy="42.1" r="1.60"/><circle cx="354.0" cy="42.1" r="1.60"/><circle cx="366.2" cy="42.1" r="1.60"/><circle cx="378.4" cy="42.1" r="1.60"/><circle cx="390.5" cy="42.1" r="1.60"/><circle cx="402.7" cy="42.1" r="1.60"/><circle cx="414.8" cy="42.1" r="1.60"/><circle cx="427.0" cy="42.1" r="1.60"/><circle cx="50.0" cy="54.3" r="1.60"/><circle cx="62.2" cy="54.3" r="1.60"/><circle cx="74.3" cy="54.3" r="1.60"/><circle cx="86.5" cy="54.3" r="1.60"/><circle cx="98.6" cy="54.3" r="1.60"/><circle cx="110.8" cy="54.3" r="1.60"/><circle cx="123.0" cy="54.3" r="1.60"/><circle cx="135.1" cy="54.3" r="1.60"/><circle cx="147.3" cy="54.3" r="1.60"/><circle cx="159.5" cy="54.3" r="1.60"/><circle cx="171.6" cy="54.3" r="1.60"/><circle cx="183.8" cy="54.3" r="1.60"/><circle cx="195.9" cy="54.3" r="1.60"/><circle cx="208.1" cy="54.3" r="1.60"/><circle cx="220.3" cy="54.3" r="1.60"/><circle cx="232.4" cy="54.3" r="1.60"/><circle cx="244.6" cy="54.3" r="1.60"/><circle cx="256.7" cy="54.3" r="1.60"/><circle cx="268.9" cy="54.3" r="1.60"/><circle cx="281.1" cy="54.3" r="1.60"/><circle cx="293.2" cy="54.3" r="1.60"/><circle cx="305.4" cy="54.3" r="1.60"/><circle cx="317.5" cy="54.3" r="1.60"/><circle cx="329.7" cy="54.3" r="1.60"/><circle cx="341.9" cy="54.3" r="1.60"/><circle cx="354.0" cy="54.3" r="1.60"/><circle cx="366.2" cy="54.3" r="1.60"/><circle cx="378.4" cy="54.3" r="1.60"/><circle cx="390.5" cy="54.3" r="1.60"/><circle cx="402.7" cy="54.3" r="1.60"/><circle cx="414.8" cy="54.3" r="1.60"/><circle cx="427.0" cy="54.3" r="1.60"/><circle cx="50.0" cy="66.4" r="1.60"/><circle cx="62.2" cy="66.4" r="1.60"/><circle cx="74.3" cy="66.4" r="1.60"/><circle cx="86.5" cy="66.4" r="1.60"/><circle cx="98.6" cy="66.4" r="1.60"/><circle cx="110.8" cy="66.4" r="1.60"/><circle cx="123.0" cy="66.4" r="1.60"/><circle cx="135.1" cy="66.4" r="1.60"/><circle cx="147.3" cy="66.4" r="1.60"/><circle cx="159.5" cy="66.4" r="1.60"/><circle cx="171.6" cy="66.4" r="1.60"/><circle cx="183.8" cy="66.4" r="1.60"/><circle cx="195.9" cy="66.4" r="1.60"/><circle cx="208.1" cy="66.4" r="1.60"/><circle cx="220.3" cy="66.4" r="1.60"/><circle cx="232.4" cy="66.4" r="1.60"/><circle cx="244.6" cy="66.4" r="1.60"/><circle cx="256.7" cy="66.4" r="1.60"/><circle cx="268.9" cy="66.4" r="1.60"/><circle cx="281.1" cy="66.4" r="1.60"/><circle cx="293.2" cy="66.4" r="1.60"/><circle cx="305.4" cy="66.4" r="1.60"/><circle cx="317.5" cy="66.4" r="1.60"/><circle cx="329.7" cy="66.4" r="1.60"/><circle cx="341.9" cy="66.4" r="1.60"/><circle cx="354.0" cy="66.4" r="1.60"/><circle cx="366.2" cy="66.4" r="1.60"/><circle cx="378.4" cy="66.4" r="1.60"/><circle cx="390.5" cy="66.4" r="1.60"/><circle cx="402.7" cy="66.4" r="1.60"/><circle cx="414.8" cy="66.4" r="1.60"/><circle cx="427.0" cy="66.4" r="1.60"/><circle cx="50.0" cy="78.5" r="1.60"/><circle cx="62.2" cy="78.5" r="1.60"/><circle cx="74.3" cy="78.5" r="1.60"/><circle cx="86.5" cy="78.5" r="1.60"/><circle cx="98.6" cy="78.5" r="1.60"/><circle cx="110.8" cy="78.5" r="1.60"/><circle cx="123.0" cy="78.5" r="1.60"/><circle cx="135.1" cy="78.5" r="1.60"/><circle cx="147.3" cy="78.5" r="1.60"/><circle cx="159.5" cy="78.5" r="1.60"/><circle cx="171.6" cy="78.5" r="1.60"/><circle cx="183.8" cy="78.5" r="1.60"/><circle cx="195.9" cy="78.5" r="1.60"/><circle cx="208.1" cy="78.5" r="1.60"/><circle cx="220.3" cy="78.5" r="1.60"/><circle cx="232.4" cy="78.5" r="1.60"/><circle cx="244.6" cy="78.5" r="1.60"/><circle cx="256.7" cy="78.5" r="1.60"/><circle cx="268.9" cy="78.5" r="1.60"/><circle cx="281.1" cy="78.5" r="1.60"/><circle cx="293.2" cy="78.5" r="1.60"/><circle cx="305.4" cy="78.5" r="1.60"/><circle cx="317.5" cy="78.5" r="1.60"/><circle cx="329.7" cy="78.5" r="1.60"/><circle cx="341.9" cy="78.5" r="1.60"/><circle cx="354.0" cy="78.5" r="1.60"/><circle cx="366.2" cy="78.5" r="1.60"/><circle cx="378.4" cy="78.5" r="1.60"/><circle cx="390.5" cy="78.5" r="1.60"/><circle cx="402.7" cy="78.5" r="1.60"/><circle cx="414.8" cy="78.5" r="1.60"/><circle cx="427.0" cy="78.5" r="1.60"/><circle cx="50.0" cy="90.6" r="1.60"/><circle cx="62.2" cy="90.6" r="1.60"/><circle cx="74.3" cy="90.6" r="1.60"/><circle cx="86.5" cy="90.6" r="1.60"/><circle cx="98.6" cy="90.6" r="1.60"/><circle cx="110.8" cy="90.6" r="1.60"/><circle cx="123.0" cy="90.6" r="1.60"/><circle cx="135.1" cy="90.6" r="1.60"/><circle cx="147.3" cy="90.6" r="1.60"/><circle cx="159.5" cy="90.6" r="1.60"/><circle cx="171.6" cy="90.6" r="1.60"/><circle cx="183.8" cy="90.6" r="1.60"/><circle cx="195.9" cy="90.6" r="1.60"/><circle cx="208.1" cy="90.6" r="1.60"/><circle cx="220.3" cy="90.6" r="1.60"/><circle cx="232.4" cy="90.6" r="1.60"/><circle cx="244.6" cy="90.6" r="1.60"/><circle cx="256.7" cy="90.6" r="1.60"/><circle cx="268.9" cy="90.6" r="1.60"/><circle cx="281.1" cy="90.6" r="1.60"/><circle cx="293.2" cy="90.6" r="1.60"/><circle cx="305.4" cy="90.6" r="1.60"/><circle cx="317.5" cy="90.6" r="1.60"/><circle cx="329.7" cy="90.6" r="1.60"/><circle cx="341.9" cy="90.6" r="1.60"/><circle cx="354.0" cy="90.6" r="1.60"/><circle cx="366.2" cy="90.6" r="1.60"/><circle cx="378.4" cy="90.6" r="1.60"/><circle cx="390.5" cy="90.6" r="1.60"/><circle cx="402.7" cy="90.6" r="1.60"/><circle cx="414.8" cy="90.6" r="1.60"/><circle cx="427.0" cy="90.6" r="1.60"/><circle cx="50.0" cy="102.8" r="1.60"/><circle cx="62.2" cy="102.8" r="1.60"/><circle cx="74.3" cy="102.8" r="1.60"/><circle cx="86.5" cy="102.8" r="1.60"/><circle cx="98.6" cy="102.8" r="1.60"/><circle cx="110.8" cy="102.8" r="1.60"/><circle cx="123.0" cy="102.8" r="1.60"/><circle cx="135.1" cy="102.8" r="1.60"/><circle cx="147.3" cy="102.8" r="1.60"/><circle cx="159.5" cy="102.8" r="1.60"/><circle cx="171.6" cy="102.8" r="1.60"/><circle cx="183.8" cy="102.8" r="1.60"/><circle cx="195.9" cy="102.8" r="1.60"/><circle cx="208.1" cy="102.8" r="1.60"/><circle cx="220.3" cy="102.8" r="1.60"/><circle cx="232.4" cy="102.8" r="1.60"/><circle cx="244.6" cy="102.8" r="1.60"/><circle cx="256.7" cy="102.8" r="1.60"/><circle cx="268.9" cy="102.8" r="1.60"/><circle cx="281.1" cy="102.8" r="1.60"/><circle cx="293.2" cy="102.8" r="1.60"/><circle cx="305.4" cy="102.8" r="1.60"/><circle cx="317.5" cy="102.8" r="1.60"/><circle cx="329.7" cy="102.8" r="1.60"/><circle cx="341.9" cy="102.8" r="1.60"/><circle cx="354.0" cy="102.8" r="1.60"/><circle cx="366.2" cy="102.8" r="1.60"/><circle cx="378.4" cy="102.8" r="1.60"/><circle cx="390.5" cy="102.8" r="1.60"/><circle cx="402.7" cy="102.8" r="1.60"/><circle cx="414.8" cy="102.8" r="1.60"/><circle cx="427.0" cy="102.8" r="1.60"/><circle cx="50.0" cy="114.9" r="1.60"/><circle cx="62.2" cy="114.9" r="1.60"/><circle cx="74.3" cy="114.9" r="1.60"/><circle cx="86.5" cy="114.9" r="1.60"/><circle cx="98.6" cy="114.9" r="1.60"/><circle cx="110.8" cy="114.9" r="1.60"/><circle cx="123.0" cy="114.9" r="1.60"/><circle cx="135.1" cy="114.9" r="1.60"/><circle cx="147.3" cy="114.9" r="1.60"/><circle cx="159.5" cy="114.9" r="1.60"/><circle cx="171.6" cy="114.9" r="1.60"/><circle cx="183.8" cy="114.9" r="1.60"/><circle cx="195.9" cy="114.9" r="1.60"/><circle cx="208.1" cy="114.9" r="1.60"/><circle cx="220.3" cy="114.9" r="1.60"/><circle cx="232.4" cy="114.9" r="1.60"/><circle cx="244.6" cy="114.9" r="1.60"/><circle cx="256.7" cy="114.9" r="1.60"/><circle cx="268.9" cy="114.9" r="1.60"/><circle cx="281.1" cy="114.9" r="1.60"/><circle cx="293.2" cy="114.9" r="1.60"/><circle cx="305.4" cy="114.9" r="1.60"/><circle cx="317.5" cy="114.9" r="1.60"/><circle cx="329.7" cy="114.9" r="1.60"/><circle cx="341.9" cy="114.9" r="1.60"/><circle cx="354.0" cy="114.9" r="1.60"/><circle cx="366.2" cy="114.9" r="1.60"/><circle cx="378.4" cy="114.9" r="1.60"/><circle cx="390.5" cy="114.9" r="1.60"/><circle cx="402.7" cy="114.9" r="1.60"/><circle cx="414.8" cy="114.9" r="1.60"/><circle cx="427.0" cy="114.9" r="1.60"/><circle cx="50.0" cy="127.0" r="1.60"/><circle cx="62.2" cy="127.0" r="1.60"/><circle cx="74.3" cy="127.0" r="1.60"/><circle cx="86.5" cy="127.0" r="1.60"/><circle cx="98.6" cy="127.0" r="1.60"/><circle cx="110.8" cy="127.0" r="1.60"/><circle cx="123.0" cy="127.0" r="1.60"/><circle cx="135.1" cy="127.0" r="1.60"/><circle cx="147.3" cy="127.0" r="1.60"/><circle cx="159.5" cy="127.0" r="1.60"/><circle cx="171.6" cy="127.0" r="1.60"/><circle cx="183.8" cy="127.0" r="1.60"/><circle cx="195.9" cy="127.0" r="1.60"/><circle cx="208.1" cy="127.0" r="1.60"/><circle cx="220.3" cy="127.0" r="1.60"/><circle cx="232.4" cy="127.0" r="1.60"/><circle cx="244.6" cy="127.0" r="1.60"/><circle cx="256.7" cy="127.0" r="1.60"/><circle cx="268.9" cy="127.0" r="1.60"/><circle cx="281.1" cy="127.0" r="1.60"/><circle cx="293.2" cy="127.0" r="1.60"/><circle cx="305.4" cy="127.0" r="1.60"/><circle cx="317.5" cy="127.0" r="1.60"/><circle cx="329.7" cy="127.0" r="1.60"/><circle cx="341.9" cy="127.0" r="1.60"/><circle cx="354.0" cy="127.0" r="1.60"/><circle cx="366.2" cy="127.0" r="1.60"/><circle cx="378.4" cy="127.0" r="1.60"/><circle cx="390.5" cy="127.0" r="1.60"/><circle cx="402.7" cy="127.0" r="1.60"/><circle cx="414.8" cy="127.0" r="1.60"/><circle cx="427.0" cy="127.0" r="1.60"/><circle cx="50.0" cy="139.2" r="1.60"/><circle cx="62.2" cy="139.2" r="1.60"/><circle cx="74.3" cy="139.2" r="1.60"/><circle cx="86.5" cy="139.2" r="1.60"/><circle cx="98.6" cy="139.2" r="1.60"/><circle cx="110.8" cy="139.2" r="1.60"/><circle cx="123.0" cy="139.2" r="1.60"/><circle cx="135.1" cy="139.2" r="1.60"/><circle cx="147.3" cy="139.2" r="1.60"/><circle cx="159.5" cy="139.2" r="1.60"/><circle cx="171.6" cy="139.2" r="1.60"/><circle cx="183.8" cy="139.2" r="1.60"/><circle cx="195.9" cy="139.2" r="1.60"/><circle cx="208.1" cy="139.2" r="1.60"/><circle cx="220.3" cy="139.2" r="1.60"/><circle cx="232.4" cy="139.2" r="1.60"/><circle cx="244.6" cy="139.2" r="1.60"/><circle cx="256.7" cy="139.2" r="1.60"/><circle cx="268.9" cy="139.2" r="1.60"/><circle cx="281.1" cy="139.2" r="1.60"/><circle cx="293.2" cy="139.2" r="1.60"/><circle cx="305.4" cy="139.2" r="1.60"/><circle cx="317.5" cy="139.2" r="1.60"/><circle cx="329.7" cy="139.2" r="1.60"/><circle cx="341.9" cy="139.2" r="1.60"/><circle cx="354.0" cy="139.2" r="1.60"/><circle cx="366.2" cy="139.2" r="1.60"/><circle cx="378.4" cy="139.2" r="1.60"/><circle cx="390.5" cy="139.2" r="1.60"/><circle cx="402.7" cy="139.2" r="1.60"/><circle cx="414.8" cy="139.2" r="1.60"/><circle cx="427.0" cy="139.2" r="1.60"/><circle cx="50.0" cy="151.3" r="1.60"/><circle cx="62.2" cy="151.3" r="1.60"/><circle cx="74.3" cy="151.3" r="1.60"/><circle cx="86.5" cy="151.3" r="1.60"/><circle cx="98.6" cy="151.3" r="1.60"/><circle cx="110.8" cy="151.3" r="1.60"/><circle cx="123.0" cy="151.3" r="1.60"/><circle cx="135.1" cy="151.3" r="1.60"/><circle cx="147.3" cy="151.3" r="1.60"/><circle cx="159.5" cy="151.3" r="1.60"/><circle cx="171.6" cy="151.3" r="1.60"/><circle cx="183.8" cy="151.3" r="1.60"/><circle cx="195.9" cy="151.3" r="1.60"/><circle cx="208.1" cy="151.3" r="1.60"/><circle cx="220.3" cy="151.3" r="1.60"/><circle cx="232.4" cy="151.3" r="1.60"/><circle cx="244.6" cy="151.3" r="1.60"/><circle cx="256.7" cy="151.3" r="1.60"/><circle cx="268.9" cy="151.3" r="1.60"/><circle cx="281.1" cy="151.3" r="1.60"/><circle cx="293.2" cy="151.3" r="1.60"/><circle cx="305.4" cy="151.3" r="1.60"/><circle cx="317.5" cy="151.3" r="1.60"/><circle cx="329.7" cy="151.3" r="1.60"/><circle cx="341.9" cy="151.3" r="1.60"/><circle cx="354.0" cy="151.3" r="1.60"/><circle cx="366.2" cy="151.3" r="1.60"/><circle cx="378.4" cy="151.3" r="1.60"/><circle cx="390.5" cy="151.3" r="1.60"/><circle cx="402.7" cy="151.3" r="1.60"/><circle cx="414.8" cy="151.3" r="1.60"/><circle cx="427.0" cy="151.3" r="1.60"/><circle cx="50.0" cy="163.4" r="1.60"/><circle cx="62.2" cy="163.4" r="1.60"/><circle cx="74.3" cy="163.4" r="1.60"/><circle cx="86.5" cy="163.4" r="1.60"/><circle cx="98.6" cy="163.4" r="1.60"/><circle cx="110.8" cy="163.4" r="1.60"/><circle cx="123.0" cy="163.4" r="1.60"/><circle cx="135.1" cy="163.4" r="1.60"/><circle cx="147.3" cy="163.4" r="1.60"/><circle cx="159.5" cy="163.4" r="1.60"/><circle cx="171.6" cy="163.4" r="1.60"/><circle cx="183.8" cy="163.4" r="1.60"/><circle cx="195.9" cy="163.4" r="1.60"/><circle cx="208.1" cy="163.4" r="1.60"/><circle cx="220.3" cy="163.4" r="1.60"/><circle cx="232.4" cy="163.4" r="1.60"/><circle cx="244.6" cy="163.4" r="1.60"/><circle cx="256.7" cy="163.4" r="1.60"/><circle cx="268.9" cy="163.4" r="1.60"/><circle cx="281.1" cy="163.4" r="1.60"/><circle cx="293.2" cy="163.4" r="1.60"/><circle cx="305.4" cy="163.4" r="1.60"/><circle cx="317.5" cy="163.4" r="1.60"/><circle cx="329.7" cy="163.4" r="1.60"/><circle cx="341.9" cy="163.4" r="1.60"/><circle cx="354.0" cy="163.4" r="1.60"/><circle cx="366.2" cy="163.4" r="1.60"/><circle cx="378.4" cy="163.4" r="1.60"/><circle cx="390.5" cy="163.4" r="1.60"/><circle cx="402.7" cy="163.4" r="1.60"/><circle cx="414.8" cy="163.4" r="1.60"/><circle cx="427.0" cy="163.4" r="1.60"/><circle cx="50.0" cy="175.5" r="1.60"/><circle cx="62.2" cy="175.5" r="1.60"/><circle cx="74.3" cy="175.5" r="1.60"/><circle cx="86.5" cy="175.5" r="1.60"/><circle cx="98.6" cy="175.5" r="1.60"/><circle cx="110.8" cy="175.5" r="1.60"/><circle cx="123.0" cy="175.5" r="1.60"/><circle cx="135.1" cy="175.5" r="1.60"/><circle cx="147.3" cy="175.5" r="1.60"/><circle cx="159.5" cy="175.5" r="1.60"/><circle cx="171.6" cy="175.5" r="1.60"/><circle cx="183.8" cy="175.5" r="1.60"/><circle cx="195.9" cy="175.5" r="1.60"/><circle cx="208.1" cy="175.5" r="1.60"/><circle cx="220.3" cy="175.5" r="1.60"/><circle cx="232.4" cy="175.5" r="1.60"/><circle cx="244.6" cy="175.5" r="1.60"/><circle cx="256.7" cy="175.5" r="1.60"/><circle cx="268.9" cy="175.5" r="1.60"/><circle cx="281.1" cy="175.5" r="1.60"/><circle cx="293.2" cy="175.5" r="1.60"/><circle cx="305.4" cy="175.5" r="1.60"/><circle cx="317.5" cy="175.5" r="1.60"/><circle cx="329.7" cy="175.5" r="1.60"/><circle cx="341.9" cy="175.5" r="1.60"/><circle cx="354.0" cy="175.5" r="1.60"/><circle cx="366.2" cy="175.5" r="1.60"/><circle cx="378.4" cy="175.5" r="1.60"/><circle cx="390.5" cy="175.5" r="1.60"/><circle cx="402.7" cy="175.5" r="1.60"/><circle cx="414.8" cy="175.5" r="1.60"/><circle cx="427.0" cy="175.5" r="1.60"/><circle cx="50.0" cy="187.7" r="1.60"/><circle cx="62.2" cy="187.7" r="1.60"/><circle cx="74.3" cy="187.7" r="1.60"/><circle cx="86.5" cy="187.7" r="1.60"/><circle cx="98.6" cy="187.7" r="1.60"/><circle cx="110.8" cy="187.7" r="1.60"/><circle cx="123.0" cy="187.7" r="1.60"/><circle cx="135.1" cy="187.7" r="1.60"/><circle cx="147.3" cy="187.7" r="1.60"/><circle cx="159.5" cy="187.7" r="1.60"/><circle cx="171.6" cy="187.7" r="1.60"/><circle cx="183.8" cy="187.7" r="1.60"/><circle cx="195.9" cy="187.7" r="1.60"/><circle cx="208.1" cy="187.7" r="1.60"/><circle cx="220.3" cy="187.7" r="1.60"/><circle cx="232.4" cy="187.7" r="1.60"/><circle cx="244.6" cy="187.7" r="1.60"/><circle cx="256.7" cy="187.7" r="1.60"/><circle cx="268.9" cy="187.7" r="1.60"/><circle cx="281.1" cy="187.7" r="1.60"/><circle cx="293.2" cy="187.7" r="1.60"/><circle cx="305.4" cy="187.7" r="1.60"/><circle cx="317.5" cy="187.7" r="1.60"/><circle cx="329.7" cy="187.7" r="1.60"/><circle cx="341.9" cy="187.7" r="1.60"/><circle cx="354.0" cy="187.7" r="1.60"/><circle cx="366.2" cy="187.7" r="1.60"/><circle cx="378.4" cy="187.7" r="1.60"/><circle cx="390.5" cy="187.7" r="1.60"/><circle cx="402.7" cy="187.7" r="1.60"/><circle cx="414.8" cy="187.7" r="1.60"/><circle cx="427.0" cy="187.7" r="1.60"/><circle cx="50.0" cy="199.8" r="1.60"/><circle cx="62.2" cy="199.8" r="1.60"/><circle cx="74.3" cy="199.8" r="1.60"/><circle cx="86.5" cy="199.8" r="1.60"/><circle cx="98.6" cy="199.8" r="1.60"/><circle cx="110.8" cy="199.8" r="1.60"/><circle cx="123.0" cy="199.8" r="1.60"/><circle cx="135.1" cy="199.8" r="1.60"/><circle cx="147.3" cy="199.8" r="1.60"/><circle cx="159.5" cy="199.8" r="1.60"/><circle cx="171.6" cy="199.8" r="1.60"/><circle cx="183.8" cy="199.8" r="1.60"/><circle cx="195.9" cy="199.8" r="1.60"/><circle cx="208.1" cy="199.8" r="1.60"/><circle cx="220.3" cy="199.8" r="1.60"/><circle cx="232.4" cy="199.8" r="1.60"/><circle cx="244.6" cy="199.8" r="1.60"/><circle cx="256.7" cy="199.8" r="1.60"/><circle cx="268.9" cy="199.8" r="1.60"/><circle cx="281.1" cy="199.8" r="1.60"/><circle cx="293.2" cy="199.8" r="1.60"/><circle cx="305.4" cy="199.8" r="1.60"/><circle cx="317.5" cy="199.8" r="1.60"/><circle cx="329.7" cy="199.8" r="1.60"/><circle cx="341.9" cy="199.8" r="1.60"/><circle cx="354.0" cy="199.8" r="1.60"/><circle cx="366.2" cy="199.8" r="1.60"/><circle cx="378.4" cy="199.8" r="1.60"/><circle cx="390.5" cy="199.8" r="1.60"/><circle cx="402.7" cy="199.8" r="1.60"/><circle cx="414.8" cy="199.8" r="1.60"/><circle cx="427.0" cy="199.8" r="1.60"/><circle cx="50.0" cy="211.9" r="1.60"/><circle cx="62.2" cy="211.9" r="1.60"/><circle cx="74.3" cy="211.9" r="1.60"/><circle cx="86.5" cy="211.9" r="1.60"/><circle cx="98.6" cy="211.9" r="1.60"/><circle cx="110.8" cy="211.9" r="1.60"/><circle cx="123.0" cy="211.9" r="1.60"/><circle cx="135.1" cy="211.9" r="1.60"/><circle cx="147.3" cy="211.9" r="1.60"/><circle cx="159.5" cy="211.9" r="1.60"/><circle cx="171.6" cy="211.9" r="1.60"/><circle cx="183.8" cy="211.9" r="1.60"/><circle cx="195.9" cy="211.9" r="1.60"/><circle cx="208.1" cy="211.9" r="1.60"/><circle cx="220.3" cy="211.9" r="1.60"/><circle cx="232.4" cy="211.9" r="1.60"/><circle cx="244.6" cy="211.9" r="1.60"/><circle cx="256.7" cy="211.9" r="1.60"/><circle cx="268.9" cy="211.9" r="1.60"/><circle cx="281.1" cy="211.9" r="1.60"/><circle cx="293.2" cy="211.9" r="1.60"/><circle cx="305.4" cy="211.9" r="1.60"/><circle cx="317.5" cy="211.9" r="1.60"/><circle cx="329.7" cy="211.9" r="1.60"/><circle cx="341.9" cy="211.9" r="1.60"/><circle cx="354.0" cy="211.9" r="1.60"/><circle cx="366.2" cy="211.9" r="1.60"/><circle cx="378.4" cy="211.9" r="1.60"/><circle cx="390.5" cy="211.9" r="1.60"/><circle cx="402.7" cy="211.9" r="1.60"/><circle cx="414.8" cy="211.9" r="1.60"/><circle cx="427.0" cy="211.9" r="1.60"/><circle cx="50.0" cy="224.1" r="1.60"/><circle cx="62.2" cy="224.1" r="1.60"/><circle cx="74.3" cy="224.1" r="1.60"/><circle cx="86.5" cy="224.1" r="1.60"/><circle cx="98.6" cy="224.1" r="1.60"/><circle cx="110.8" cy="224.1" r="1.60"/><circle cx="123.0" cy="224.1" r="1.60"/><circle cx="135.1" cy="224.1" r="1.60"/><circle cx="147.3" cy="224.1" r="1.60"/><circle cx="159.5" cy="224.1" r="1.60"/><circle cx="171.6" cy="224.1" r="1.60"/><circle cx="183.8" cy="224.1" r="1.60"/><circle cx="195.9" cy="224.1" r="1.60"/><circle cx="208.1" cy="224.1" r="1.60"/><circle cx="220.3" cy="224.1" r="1.60"/><circle cx="232.4" cy="224.1" r="1.60"/><circle cx="244.6" cy="224.1" r="1.60"/><circle cx="256.7" cy="224.1" r="1.60"/><circle cx="268.9" cy="224.1" r="1.60"/><circle cx="281.1" cy="224.1" r="1.60"/><circle cx="293.2" cy="224.1" r="1.60"/><circle cx="305.4" cy="224.1" r="1.60"/><circle cx="317.5" cy="224.1" r="1.60"/><circle cx="329.7" cy="224.1" r="1.60"/><circle cx="341.9" cy="224.1" r="1.60"/><circle cx="354.0" cy="224.1" r="1.60"/><circle cx="366.2" cy="224.1" r="1.60"/><circle cx="378.4" cy="224.1" r="1.60"/><circle cx="390.5" cy="224.1" r="1.60"/><circle cx="402.7" cy="224.1" r="1.60"/><circle cx="414.8" cy="224.1" r="1.60"/><circle cx="427.0" cy="224.1" r="1.60"/><circle cx="50.0" cy="236.2" r="1.60"/><circle cx="62.2" cy="236.2" r="1.60"/><circle cx="74.3" cy="236.2" r="1.60"/><circle cx="86.5" cy="236.2" r="1.60"/><circle cx="98.6" cy="236.2" r="1.60"/><circle cx="110.8" cy="236.2" r="1.60"/><circle cx="123.0" cy="236.2" r="1.60"/><circle cx="135.1" cy="236.2" r="1.60"/><circle cx="147.3" cy="236.2" r="1.60"/><circle cx="159.5" cy="236.2" r="1.60"/><circle cx="171.6" cy="236.2" r="1.60"/><circle cx="183.8" cy="236.2" r="1.60"/><circle cx="195.9" cy="236.2" r="1.60"/><circle cx="208.1" cy="236.2" r="1.60"/><circle cx="220.3" cy="236.2" r="1.60"/><circle cx="232.4" cy="236.2" r="1.60"/><circle cx="244.6" cy="236.2" r="1.60"/><circle cx="256.7" cy="236.2" r="1.60"/><circle cx="268.9" cy="236.2" r="1.60"/><circle cx="281.1" cy="236.2" r="1.60"/><circle cx="293.2" cy="236.2" r="1.60"/><circle cx="305.4" cy="236.2" r="1.60"/><circle cx="317.5" cy="236.2" r="1.60"/><circle cx="329.7" cy="236.2" r="1.60"/><circle cx="341.9" cy="236.2" r="1.60"/><circle cx="354.0" cy="236.2" r="1.60"/><circle cx="366.2" cy="236.2" r="1.60"/><circle cx="378.4" cy="236.2" r="1.60"/><circle cx="390.5" cy="236.2" r="1.60"/><circle cx="402.7" cy="236.2" r="1.60"/><circle cx="414.8" cy="236.2" r="1.60"/><circle cx="427.0" cy="236.2" r="1.60"/><circle cx="50.0" cy="248.3" r="1.60"/><circle cx="62.2" cy="248.3" r="1.60"/><circle cx="74.3" cy="248.3" r="1.60"/><circle cx="86.5" cy="248.3" r="1.60"/><circle cx="98.6" cy="248.3" r="1.60"/><circle cx="110.8" cy="248.3" r="1.60"/><circle cx="123.0" cy="248.3" r="1.60"/><circle cx="135.1" cy="248.3" r="1.60"/><circle cx="147.3" cy="248.3" r="1.60"/><circle cx="159.5" cy="248.3" r="1.60"/><circle cx="171.6" cy="248.3" r="1.60"/><circle cx="183.8" cy="248.3" r="1.60"/><circle cx="195.9" cy="248.3" r="1.60"/><circle cx="208.1" cy="248.3" r="1.60"/><circle cx="220.3" cy="248.3" r="1.60"/><circle cx="232.4" cy="248.3" r="1.60"/><circle cx="244.6" cy="248.3" r="1.60"/><circle cx="256.7" cy="248.3" r="1.60"/><circle cx="268.9" cy="248.3" r="1.60"/><circle cx="281.1" cy="248.3" r="1.60"/><circle cx="293.2" cy="248.3" r="1.60"/><circle cx="305.4" cy="248.3" r="1.60"/><circle cx="317.5" cy="248.3" r="1.60"/><circle cx="329.7" cy="248.3" r="1.60"/><circle cx="341.9" cy="248.3" r="1.60"/><circle cx="354.0" cy="248.3" r="1.60"/><circle cx="366.2" cy="248.3" r="1.60"/><circle cx="378.4" cy="248.3" r="1.60"/><circle cx="390.5" cy="248.3" r="1.60"/><circle cx="402.7" cy="248.3" r="1.60"/><circle cx="414.8" cy="248.3" r="1.60"/><circle cx="427.0" cy="248.3" r="1.60"/><circle cx="50.0" cy="260.5" r="1.60"/><circle cx="62.2" cy="260.5" r="1.60"/><circle cx="74.3" cy="260.5" r="1.60"/><circle cx="86.5" cy="260.5" r="1.60"/><circle cx="98.6" cy="260.5" r="1.60"/><circle cx="110.8" cy="260.5" r="1.60"/><circle cx="123.0" cy="260.5" r="1.60"/><circle cx="135.1" cy="260.5" r="1.60"/><circle cx="147.3" cy="260.5" r="1.60"/><circle cx="159.5" cy="260.5" r="1.60"/><circle cx="171.6" cy="260.5" r="1.60"/><circle cx="183.8" cy="260.5" r="1.60"/><circle cx="195.9" cy="260.5" r="1.60"/><circle cx="208.1" cy="260.5" r="1.60"/><circle cx="220.3" cy="260.5" r="1.60"/><circle cx="232.4" cy="260.5" r="1.60"/><circle cx="244.6" cy="260.5" r="1.60"/><circle cx="256.7" cy="260.5" r="1.60"/><circle cx="268.9" cy="260.5" r="1.60"/><circle cx="281.1" cy="260.5" r="1.60"/><circle cx="293.2" cy="260.5" r="1.60"/><circle cx="305.4" cy="260.5" r="1.60"/><circle cx="317.5" cy="260.5" r="1.60"/><circle cx="329.7" cy="260.5" r="1.60"/><circle cx="341.9" cy="260.5" r="1.60"/><circle cx="354.0" cy="260.5" r="1.60"/><circle cx="366.2" cy="260.5" r="1.60"/><circle cx="378.4" cy="260.5" r="1.60"/><circle cx="390.5" cy="260.5" r="1.60"/><circle cx="402.7" cy="260.5" r="1.60"/><circle cx="414.8" cy="260.5" r="1.60"/><circle cx="427.0" cy="260.5" r="1.60"/><circle cx="50.0" cy="272.6" r="1.60"/><circle cx="62.2" cy="272.6" r="1.60"/><circle cx="74.3" cy="272.6" r="1.60"/><circle cx="86.5" cy="272.6" r="1.60"/><circle cx="98.6" cy="272.6" r="1.60"/><circle cx="110.8" cy="272.6" r="1.60"/><circle cx="123.0" cy="272.6" r="1.60"/><circle cx="135.1" cy="272.6" r="1.60"/><circle cx="147.3" cy="272.6" r="1.60"/><circle cx="159.5" cy="272.6" r="1.60"/><circle cx="171.6" cy="272.6" r="1.60"/><circle cx="183.8" cy="272.6" r="1.60"/><circle cx="195.9" cy="272.6" r="1.60"/><circle cx="208.1" cy="272.6" r="1.60"/><circle cx="220.3" cy="272.6" r="1.60"/><circle cx="232.4" cy="272.6" r="1.60"/><circle cx="244.6" cy="272.6" r="1.60"/><circle cx="256.7" cy="272.6" r="1.60"/><circle cx="268.9" cy="272.6" r="1.60"/><circle cx="281.1" cy="272.6" r="1.60"/><circle cx="293.2" cy="272.6" r="1.60"/><circle cx="305.4" cy="272.6" r="1.60"/><circle cx="317.5" cy="272.6" r="1.60"/><circle cx="329.7" cy="272.6" r="1.60"/><circle cx="341.9" cy="272.6" r="1.60"/><circle cx="354.0" cy="272.6" r="1.60"/><circle cx="366.2" cy="272.6" r="1.60"/><circle cx="378.4" cy="272.6" r="1.60"/><circle cx="390.5" cy="272.6" r="1.60"/><circle cx="402.7" cy="272.6" r="1.60"/><circle cx="414.8" cy="272.6" r="1.60"/><circle cx="427.0" cy="272.6" r="1.60"/><circle cx="50.0" cy="284.7" r="1.60"/><circle cx="62.2" cy="284.7" r="1.60"/><circle cx="74.3" cy="284.7" r="1.60"/><circle cx="86.5" cy="284.7" r="1.60"/><circle cx="98.6" cy="284.7" r="1.60"/><circle cx="110.8" cy="284.7" r="1.60"/><circle cx="123.0" cy="284.7" r="1.60"/><circle cx="135.1" cy="284.7" r="1.60"/><circle cx="147.3" cy="284.7" r="1.60"/><circle cx="159.5" cy="284.7" r="1.60"/><circle cx="171.6" cy="284.7" r="1.60"/><circle cx="183.8" cy="284.7" r="1.60"/><circle cx="195.9" cy="284.7" r="1.60"/><circle cx="208.1" cy="284.7" r="1.60"/><circle cx="220.3" cy="284.7" r="1.60"/><circle cx="232.4" cy="284.7" r="1.60"/><circle cx="244.6" cy="284.7" r="1.60"/><circle cx="256.7" cy="284.7" r="1.60"/><circle cx="268.9" cy="284.7" r="1.60"/><circle cx="281.1" cy="284.7" r="1.60"/><circle cx="293.2" cy="284.7" r="1.60"/><circle cx="305.4" cy="284.7" r="1.60"/><circle cx="317.5" cy="284.7" r="1.60"/><circle cx="329.7" cy="284.7" r="1.60"/><circle cx="341.9" cy="284.7" r="1.60"/><circle cx="354.0" cy="284.7" r="1.60"/><circle cx="366.2" cy="284.7" r="1.60"/><circle cx="378.4" cy="284.7" r="1.60"/><circle cx="390.5" cy="284.7" r="1.60"/><circle cx="402.7" cy="284.7" r="1.60"/><circle cx="414.8" cy="284.7" r="1.60"/><circle cx="427.0" cy="284.7" r="1.60"/><circle cx="50.0" cy="296.8" r="1.60"/><circle cx="62.2" cy="296.8" r="1.60"/><circle cx="74.3" cy="296.8" r="1.60"/><circle cx="86.5" cy="296.8" r="1.60"/><circle cx="98.6" cy="296.8" r="1.60"/><circle cx="110.8" cy="296.8" r="1.60"/><circle cx="123.0" cy="296.8" r="1.60"/><circle cx="135.1" cy="296.8" r="1.60"/><circle cx="147.3" cy="296.8" r="1.60"/><circle cx="159.5" cy="296.8" r="1.60"/><circle cx="171.6" cy="296.8" r="1.60"/><circle cx="183.8" cy="296.8" r="1.60"/><circle cx="195.9" cy="296.8" r="1.60"/><circle cx="208.1" cy="296.8" r="1.60"/><circle cx="220.3" cy="296.8" r="1.60"/><circle cx="232.4" cy="296.8" r="1.60"/><circle cx="244.6" cy="296.8" r="1.60"/><circle cx="256.7" cy="296.8" r="1.60"/><circle cx="268.9" cy="296.8" r="1.60"/><circle cx="281.1" cy="296.8" r="1.60"/><circle cx="293.2" cy="296.8" r="1.60"/><circle cx="305.4" cy="296.8" r="1.60"/><circle cx="317.5" cy="296.8" r="1.60"/><circle cx="329.7" cy="296.8" r="1.60"/><circle cx="341.9" cy="296.8" r="1.60"/><circle cx="354.0" cy="296.8" r="1.60"/><circle cx="366.2" cy="296.8" r="1.60"/><circle cx="378.4" cy="296.8" r="1.60"/><circle cx="390.5" cy="296.8" r="1.60"/><circle cx="402.7" cy="296.8" r="1.60"/><circle cx="414.8" cy="296.8" r="1.60"/><circle cx="427.0" cy="296.8" r="1.60"/><circle cx="50.0" cy="309.0" r="1.60"/><circle cx="62.2" cy="309.0" r="1.60"/><circle cx="74.3" cy="309.0" r="1.60"/><circle cx="86.5" cy="309.0" r="1.60"/><circle cx="98.6" cy="309.0" r="1.60"/><circle cx="110.8" cy="309.0" r="1.60"/><circle cx="123.0" cy="309.0" r="1.60"/><circle cx="135.1" cy="309.0" r="1.60"/><circle cx="147.3" cy="309.0" r="1.60"/><circle cx="159.5" cy="309.0" r="1.60"/><circle cx="171.6" cy="309.0" r="1.60"/><circle cx="183.8" cy="309.0" r="1.60"/><circle cx="195.9" cy="309.0" r="1.60"/><circle cx="208.1" cy="309.0" r="1.60"/><circle cx="220.3" cy="309.0" r="1.60"/><circle cx="232.4" cy="309.0" r="1.60"/><circle cx="244.6" cy="309.0" r="1.60"/><circle cx="256.7" cy="309.0" r="1.60"/><circle cx="268.9" cy="309.0" r="1.60"/><circle cx="281.1" cy="309.0" r="1.60"/><circle cx="293.2" cy="309.0" r="1.60"/><circle cx="305.4" cy="309.0" r="1.60"/><circle cx="317.5" cy="309.0" r="1.60"/><circle cx="329.7" cy="309.0" r="1.60"/><circle cx="341.9" cy="309.0" r="1.60"/><circle cx="354.0" cy="309.0" r="1.60"/><circle cx="366.2" cy="309.0" r="1.60"/><circle cx="378.4" cy="309.0" r="1.60"/><circle cx="390.5" cy="309.0" r="1.60"/><circle cx="402.7" cy="309.0" r="1.60"/><circle cx="414.8" cy="309.0" r="1.60"/><circle cx="427.0" cy="309.0" r="1.60"/><circle cx="50.0" cy="321.1" r="1.60"/><circle cx="62.2" cy="321.1" r="1.60"/><circle cx="74.3" cy="321.1" r="1.60"/><circle cx="86.5" cy="321.1" r="1.60"/><circle cx="98.6" cy="321.1" r="1.60"/><circle cx="110.8" cy="321.1" r="1.60"/><circle cx="123.0" cy="321.1" r="1.60"/><circle cx="135.1" cy="321.1" r="1.60"/><circle cx="147.3" cy="321.1" r="1.60"/><circle cx="159.5" cy="321.1" r="1.60"/><circle cx="171.6" cy="321.1" r="1.60"/><circle cx="183.8" cy="321.1" r="1.60"/><circle cx="195.9" cy="321.1" r="1.60"/><circle cx="208.1" cy="321.1" r="1.60"/><circle cx="220.3" cy="321.1" r="1.60"/><circle cx="232.4" cy="321.1" r="1.60"/><circle cx="244.6" cy="321.1" r="1.60"/><circle cx="256.7" cy="321.1" r="1.60"/><circle cx="268.9" cy="321.1" r="1.60"/><circle cx="281.1" cy="321.1" r="1.60"/><circle cx="293.2" cy="321.1" r="1.60"/><circle cx="305.4" cy="321.1" r="1.60"/><circle cx="317.5" cy="321.1" r="1.60"/><circle cx="329.7" cy="321.1" r="1.60"/><circle cx="341.9" cy="321.1" r="1.60"/><circle cx="354.0" cy="321.1" r="1.60"/><circle cx="366.2" cy="321.1" r="1.60"/><circle cx="378.4" cy="321.1" r="1.60"/><circle cx="390.5" cy="321.1" r="1.60"/><circle cx="402.7" cy="321.1" r="1.60"/><circle cx="414.8" cy="321.1" r="1.60"/><circle cx="427.0" cy="321.1" r="1.60"/><circle cx="50.0" cy="333.2" r="1.60"/><circle cx="62.2" cy="333.2" r="1.60"/><circle cx="74.3" cy="333.2" r="1.60"/><circle cx="86.5" cy="333.2" r="1.60"/><circle cx="98.6" cy="333.2" r="1.60"/><circle cx="110.8" cy="333.2" r="1.60"/><circle cx="123.0" cy="333.2" r="1.60"/><circle cx="135.1" cy="333.2" r="1.60"/><circle cx="147.3" cy="333.2" r="1.60"/><circle cx="159.5" cy="333.2" r="1.60"/><circle cx="171.6" cy="333.2" r="1.60"/><circle cx="183.8" cy="333.2" r="1.60"/><circle cx="195.9" cy="333.2" r="1.60"/><circle cx="208.1" cy="333.2" r="1.60"/><circle cx="220.3" cy="333.2" r="1.60"/><circle cx="232.4" cy="333.2" r="1.60"/><circle cx="244.6" cy="333.2" r="1.60"/><circle cx="256.7" cy="333.2" r="1.60"/><circle cx="268.9" cy="333.2" r="1.60"/><circle cx="281.1" cy="333.2" r="1.60"/><circle cx="293.2" cy="333.2" r="1.60"/><circle cx="305.4" cy="333.2" r="1.60"/><circle cx="317.5" cy="333.2" r="1.60"/><circle cx="329.7" cy="333.2" r="1.60"/><circle cx="341.9" cy="333.2" r="1.60"/><circle cx="354.0" cy="333.2" r="1.60"/><circle cx="366.2" cy="333.2" r="1.60"/><circle cx="378.4" cy="333.2" r="1.60"/><circle cx="390.5" cy="333.2" r="1.60"/><circle cx="402.7" cy="333.2" r="1.60"/><circle cx="414.8" cy="333.2" r="1.60"/><circle cx="427.0" cy="333.2" r="1.60"/><circle cx="50.0" cy="345.4" r="1.60"/><circle cx="62.2" cy="345.4" r="1.60"/><circle cx="74.3" cy="345.4" r="1.60"/><circle cx="86.5" cy="345.4" r="1.60"/><circle cx="98.6" cy="345.4" r="1.60"/><circle cx="110.8" cy="345.4" r="1.60"/><circle cx="123.0" cy="345.4" r="1.60"/><circle cx="135.1" cy="345.4" r="1.60"/><circle cx="147.3" cy="345.4" r="1.60"/><circle cx="159.5" cy="345.4" r="1.60"/><circle cx="171.6" cy="345.4" r="1.60"/><circle cx="183.8" cy="345.4" r="1.60"/><circle cx="195.9" cy="345.4" r="1.60"/><circle cx="208.1" cy="345.4" r="1.60"/><circle cx="220.3" cy="345.4" r="1.60"/><circle cx="232.4" cy="345.4" r="1.60"/><circle cx="244.6" cy="345.4" r="1.60"/><circle cx="256.7" cy="345.4" r="1.60"/><circle cx="268.9" cy="345.4" r="1.60"/><circle cx="281.1" cy="345.4" r="1.60"/><circle cx="293.2" cy="345.4" r="1.60"/><circle cx="305.4" cy="345.4" r="1.60"/><circle cx="317.5" cy="345.4" r="1.60"/><circle cx="329.7" cy="345.4" r="1.60"/><circle cx="341.9" cy="345.4" r="1.60"/><circle cx="354.0" cy="345.4" r="1.60"/><circle cx="366.2" cy="345.4" r="1.60"/><circle cx="378.4" cy="345.4" r="1.60"/><circle cx="390.5" cy="345.4" r="1.60"/><circle cx="402.7" cy="345.4" r="1.60"/><circle cx="414.8" cy="345.4" r="1.60"/><circle cx="427.0" cy="345.4" r="1.60"/><circle cx="50.0" cy="357.5" r="1.60"/><circle cx="62.2" cy="357.5" r="1.60"/><circle cx="74.3" cy="357.5" r="1.60"/><circle cx="86.5" cy="357.5" r="1.60"/><circle cx="98.6" cy="357.5" r="1.60"/><circle cx="110.8" cy="357.5" r="1.60"/><circle cx="123.0" cy="357.5" r="1.60"/><circle cx="135.1" cy="357.5" r="1.60"/><circle cx="147.3" cy="357.5" r="1.60"/><circle cx="159.5" cy="357.5" r="1.60"/><circle cx="171.6" cy="357.5" r="1.60"/><circle cx="183.8" cy="357.5" r="1.60"/><circle cx="195.9" cy="357.5" r="1.60"/><circle cx="208.1" cy="357.5" r="1.60"/><circle cx="220.3" cy="357.5" r="1.60"/><circle cx="232.4" cy="357.5" r="1.60"/><circle cx="244.6" cy="357.5" r="1.60"/><circle cx="256.7" cy="357.5" r="1.60"/><circle cx="268.9" cy="357.5" r="1.60"/><circle cx="281.1" cy="357.5" r="1.60"/><circle cx="293.2" cy="357.5" r="1.60"/><circle cx="305.4" cy="357.5" r="1.60"/><circle cx="317.5" cy="357.5" r="1.60"/><circle cx="329.7" cy="357.5" r="1.60"/><circle cx="341.9" cy="357.5" r="1.60"/><circle cx="354.0" cy="357.5" r="1.60"/><circle cx="366.2" cy="357.5" r="1.60"/><circle cx="378.4" cy="357.5" r="1.60"/><circle cx="390.5" cy="357.5" r="1.60"/><circle cx="402.7" cy="357.5" r="1.60"/><circle cx="414.8" cy="357.5" r="1.60"/><circle cx="427.0" cy="357.5" r="1.60"/><circle cx="50.0" cy="369.6" r="1.60"/><circle cx="62.2" cy="369.6" r="1.60"/><circle cx="74.3" cy="369.6" r="1.60"/><circle cx="86.5" cy="369.6" r="1.60"/><circle cx="98.6" cy="369.6" r="1.60"/><circle cx="110.8" cy="369.6" r="1.60"/><circle cx="123.0" cy="369.6" r="1.60"/><circle cx="135.1" cy="369.6" r="1.60"/><circle cx="147.3" cy="369.6" r="1.60"/><circle cx="159.5" cy="369.6" r="1.60"/><circle cx="171.6" cy="369.6" r="1.60"/><circle cx="183.8" cy="369.6" r="1.60"/><circle cx="195.9" cy="369.6" r="1.60"/><circle cx="208.1" cy="369.6" r="1.60"/><circle cx="220.3" cy="369.6" r="1.60"/><circle cx="232.4" cy="369.6" r="1.60"/><circle cx="244.6" cy="369.6" r="1.60"/><circle cx="256.7" cy="369.6" r="1.60"/><circle cx="268.9" cy="369.6" r="1.60"/><circle cx="281.1" cy="369.6" r="1.60"/><circle cx="293.2" cy="369.6" r="1.60"/><circle cx="305.4" cy="369.6" r="1.60"/><circle cx="317.5" cy="369.6" r="1.60"/><circle cx="329.7" cy="369.6" r="1.60"/><circle cx="341.9" cy="369.6" r="1.60"/><circle cx="354.0" cy="369.6" r="1.60"/><circle cx="366.2" cy="369.6" r="1.60"/><circle cx="378.4" cy="369.6" r="1.60"/><circle cx="390.5" cy="369.6" r="1.60"/><circle cx="402.7" cy="369.6" r="1.60"/><circle cx="414.8" cy="369.6" r="1.60"/><circle cx="427.0" cy="369.6" r="1.60"/><circle cx="50.0" cy="381.7" r="1.60"/><circle cx="62.2" cy="381.7" r="1.60"/><circle cx="74.3" cy="381.7" r="1.60"/><circle cx="86.5" cy="381.7" r="1.60"/><circle cx="98.6" cy="381.7" r="1.60"/><circle cx="110.8" cy="381.7" r="1.60"/><circle cx="123.0" cy="381.7" r="1.60"/><circle cx="135.1" cy="381.7" r="1.60"/><circle cx="147.3" cy="381.7" r="1.60"/><circle cx="159.5" cy="381.7" r="1.60"/><circle cx="171.6" cy="381.7" r="1.60"/><circle cx="183.8" cy="381.7" r="1.60"/><circle cx="195.9" cy="381.7" r="1.60"/><circle cx="208.1" cy="381.7" r="1.60"/><circle cx="220.3" cy="381.7" r="1.60"/><circle cx="232.4" cy="381.7" r="1.60"/><circle cx="244.6" cy="381.7" r="1.60"/><circle cx="256.7" cy="381.7" r="1.60"/><circle cx="268.9" cy="381.7" r="1.60"/><circle cx="281.1" cy="381.7" r="1.60"/><circle cx="293.2" cy="381.7" r="1.60"/><circle cx="305.4" cy="381.7" r="1.60"/><circle cx="317.5" cy="381.7" r="1.60"/><circle cx="329.7" cy="381.7" r="1.60"/><circle cx="341.9" cy="381.7" r="1.60"/><circle cx="354.0" cy="381.7" r="1.60"/><circle cx="366.2" cy="381.7" r="1.60"/><circle cx="378.4" cy="381.7" r="1.60"/><circle cx="390.5" cy="381.7" r="1.60"/><circle cx="402.7" cy="381.7" r="1.60"/><circle cx="414.8" cy="381.7" r="1.60"/><circle cx="427.0" cy="381.7" r="1.60"/><circle cx="50.0" cy="393.9" r="1.60"/><circle cx="62.2" cy="393.9" r="1.60"/><circle cx="74.3" cy="393.9" r="1.60"/><circle cx="86.5" cy="393.9" r="1.60"/><circle cx="98.6" cy="393.9" r="1.60"/><circle cx="110.8" cy="393.9" r="1.60"/><circle cx="123.0" cy="393.9" r="1.60"/><circle cx="135.1" cy="393.9" r="1.60"/><circle cx="147.3" cy="393.9" r="1.60"/><circle cx="159.5" cy="393.9" r="1.60"/><circle cx="171.6" cy="393.9" r="1.60"/><circle cx="183.8" cy="393.9" r="1.60"/><circle cx="195.9" cy="393.9" r="1.60"/><circle cx="208.1" cy="393.9" r="1.60"/><circle cx="220.3" cy="393.9" r="1.60"/><circle cx="232.4" cy="393.9" r="1.60"/><circle cx="244.6" cy="393.9" r="1.60"/><circle cx="256.7" cy="393.9" r="1.60"/><circle cx="268.9" cy="393.9" r="1.60"/><circle cx="281.1" cy="393.9" r="1.60"/><circle cx="293.2" cy="393.9" r="1.60"/><circle cx="305.4" cy="393.9" r="1.60"/><circle cx="317.5" cy="393.9" r="1.60"/><circle cx="329.7" cy="393.9" r="1.60"/><circle cx="341.9" cy="393.9" r="1.60"/><circle cx="354.0" cy="393.9" r="1.60"/><circle cx="366.2" cy="393.9" r="1.60"/><circle cx="378.4" cy="393.9" r="1.60"/><circle cx="390.5" cy="393.9" r="1.60"/><circle cx="402.7" cy="393.9" r="1.60"/><circle cx="414.8" cy="393.9" r="1.60"/><circle cx="427.0" cy="393.9" r="1.60"/><circle cx="50.0" cy="406.0" r="1.60"/><circle cx="62.2" cy="406.0" r="1.60"/><circle cx="74.3" cy="406.0" r="1.60"/><circle cx="86.5" cy="406.0" r="1.60"/><circle cx="98.6" cy="406.0" r="1.60"/><circle cx="110.8" cy="406.0" r="1.60"/><circle cx="123.0" cy="406.0" r="1.60"/><circle cx="135.1" cy="406.0" r="1.60"/><circle cx="147.3" cy="406.0" r="1.60"/><circle cx="159.5" cy="406.0" r="1.60"/><circle cx="171.6" cy="406.0" r="1.60"/><circle cx="183.8" cy="406.0" r="1.60"/><circle cx="195.9" cy="406.0" r="1.60"/><circle cx="208.1" cy="406.0" r="1.60"/><circle cx="220.3" cy="406.0" r="1.60"/><circle cx="232.4" cy="406.0" r="1.60"/><circle cx="244.6" cy="406.0" r="1.60"/><circle cx="256.7" cy="406.0" r="1.60"/><circle cx="268.9" cy="406.0" r="1.60"/><circle cx="281.1" cy="406.0" r="1.60"/><circle cx="293.2" cy="406.0" r="1.60"/><circle cx="305.4" cy="406.0" r="1.60"/><circle cx="317.5" cy="406.0" r="1.60"/><circle cx="329.7" cy="406.0" r="1.60"/><circle cx="341.9" cy="406.0" r="1.60"/><circle cx="354.0" cy="406.0" r="1.60"/><circle cx="366.2" cy="406.0" r="1.60"/><circle cx="378.4" cy="406.0" r="1.60"/><circle cx="390.5" cy="406.0" r="1.60"/><circle cx="402.7" cy="406.0" r="1.60"/><circle cx="414.8" cy="406.0" r="1.60"/><circle cx="427.0" cy="406.0" r="1.60"/></g>
<path d="M378.4 66.4C381.7 66.7 383.7 67.6 385.7 69.4C387.6 71.2 389.2 74.9 389.9 77.3C390.6 79.7 390.1 81.6 389.9 84.0C389.7 86.3 389.5 88.3 388.7 91.3C387.9 94.2 386.8 97.6 385.0 101.6C383.3 105.5 380.5 110.8 378.4 114.9C376.2 119.0 374.3 122.7 372.3 126.4C370.2 130.2 368.3 133.8 366.2 137.3C364.1 140.9 361.6 144.4 359.5 147.7C357.4 150.9 355.3 154.2 353.4 156.7C351.5 159.3 349.9 160.5 348.0 162.8C346.0 165.1 343.9 167.8 341.9 170.7C339.8 173.6 337.8 177.3 335.8 180.4C333.8 183.5 331.7 186.6 329.7 189.5C327.7 192.4 325.7 195.0 323.6 198.0C321.6 201.0 319.5 204.6 317.5 207.7C315.6 210.8 313.5 214.1 312.1 216.8C310.7 219.5 309.9 221.2 309.0 224.1C308.1 226.9 307.9 230.3 306.6 233.8C305.3 237.2 303.3 241.2 301.1 244.7C299.0 248.1 296.5 251.4 293.8 254.4C291.2 257.4 288.6 260.0 285.3 262.9C282.1 265.7 277.9 268.9 274.4 271.4C270.8 273.8 267.6 275.5 264.0 277.4C260.5 279.4 256.6 281.3 253.1 282.9C249.5 284.5 246.2 285.8 242.8 287.1C239.3 288.4 236.2 289.0 232.4 290.8C228.7 292.6 224.3 295.8 220.3 298.1C216.2 300.3 212.2 302.1 208.1 304.1C204.0 306.1 200.0 307.9 195.9 310.2C191.9 312.5 187.8 315.2 183.8 318.1C179.7 320.9 175.1 324.8 171.6 327.2C168.2 329.5 165.8 330.5 163.1 332.0C160.4 333.5 158.3 334.5 155.2 336.3C152.1 338.0 148.0 340.4 144.5 342.3C140.9 344.2 137.3 346.6 133.9 347.8C130.5 349.0 127.0 349.5 124.2 349.6C121.3 349.7 119.2 349.0 116.9 348.4C114.6 347.8 111.6 348.4 110.2 346.0C108.8 343.5 108.4 338.0 108.4 333.8C108.3 329.7 108.8 325.1 110.0 321.1C111.1 317.1 113.2 313.4 115.3 309.6C117.4 305.7 120.2 301.4 122.4 298.1C124.5 294.7 126.2 292.4 128.2 289.6C130.2 286.7 132.5 284.1 134.5 281.1C136.6 278.0 138.5 274.8 140.6 271.4C142.7 267.9 145.2 264.3 147.3 260.5C149.4 256.6 151.3 252.3 153.4 248.3C155.4 244.4 157.4 240.4 159.5 236.8C161.5 233.2 163.9 230.4 165.5 226.5C167.2 222.5 167.9 217.2 169.2 213.1C170.5 209.1 171.9 205.7 173.4 202.2C175.0 198.8 176.6 195.8 178.3 192.5C180.0 189.3 181.7 185.9 183.8 182.8C185.8 179.8 188.0 177.1 190.5 174.3C192.9 171.6 195.4 169.0 198.4 166.5C201.3 163.9 204.9 161.3 208.1 159.2C211.3 157.1 215.0 155.1 217.8 153.7C220.7 152.3 222.7 151.8 225.1 150.7C227.6 149.6 229.2 148.9 232.4 147.0C235.7 145.2 240.5 142.3 244.6 139.8C248.6 137.2 252.7 134.4 256.7 131.9C260.8 129.4 264.8 127.1 268.9 124.6C273.0 122.1 278.0 118.6 281.1 116.7C284.1 114.8 283.5 115.4 287.1 113.1C290.8 110.8 298.5 105.7 303.0 102.8C307.4 99.8 310.0 98.0 313.9 95.5C317.8 93.0 322.0 90.1 326.1 87.6C330.1 85.1 334.1 82.6 338.2 80.3C342.4 78.1 346.4 76.4 351.0 74.3C355.6 72.1 361.0 68.9 365.6 67.6C370.1 66.3 375.0 66.1 378.4 66.4Z" fill="none" stroke="#FA0A14" stroke-width="4.2" stroke-linejoin="round"/>
<path d="M238.22 154.28 a64.50 64.50 0 1 1 -0.01 0" fill="none" stroke="#fff" stroke-width="4.2" stroke-dasharray="10.1 9.2" stroke-dashoffset="5.05"/>
<rect x="50.0" y="30.0" width="377.0" height="376.0" fill="none" stroke="#000" stroke-width="1"/><path d="M135.1 406.0 v-4 M135.1 30.0 v4" stroke="#000" stroke-width="1" fill="none"/><path d="M232.4 406.0 v-4 M232.4 30.0 v4" stroke="#000" stroke-width="1" fill="none"/><path d="M329.7 406.0 v-4 M329.7 30.0 v4" stroke="#000" stroke-width="1" fill="none"/><path d="M427.0 406.0 v-4 M427.0 30.0 v4" stroke="#000" stroke-width="1" fill="none"/><path d="M50.0 127.0 h4 M427.0 127.0 h-4" stroke="#000" stroke-width="1" fill="none"/><path d="M50.0 224.1 h4 M427.0 224.1 h-4" stroke="#000" stroke-width="1" fill="none"/><path d="M50.0 321.1 h4 M427.0 321.1 h-4" stroke="#000" stroke-width="1" fill="none"/>
<defs><linearGradient id="pg" x1="0" y1="0" x2="0" y2="1"><stop offset="0.0000" stop-color="rgb(249,251,21)"/><stop offset="0.0476" stop-color="rgb(245,233,36)"/><stop offset="0.1111" stop-color="rgb(252,207,48)"/><stop offset="0.1746" stop-color="rgb(248,186,61)"/><stop offset="0.2381" stop-color="rgb(209,191,39)"/><stop offset="0.3016" stop-color="rgb(157,201,67)"/><stop offset="0.3651" stop-color="rgb(100,205,111)"/><stop offset="0.4286" stop-color="rgb(55,200,151)"/><stop offset="0.4921" stop-color="rgb(25,191,182)"/><stop offset="0.5556" stop-color="rgb(8,181,208)"/><stop offset="0.6190" stop-color="rgb(32,165,227)"/><stop offset="0.6825" stop-color="rgb(43,145,239)"/><stop offset="0.7460" stop-color="rgb(50,124,252)"/><stop offset="0.8095" stop-color="rgb(69,99,253)"/><stop offset="0.8730" stop-color="rgb(72,77,240)"/><stop offset="0.9365" stop-color="rgb(69,55,213)"/><stop offset="1.0000" stop-color="rgb(62,38,168)"/></linearGradient></defs><rect x="449.0" y="30.0" width="31.5" height="376.0" fill="url(#pg)" stroke="#000" stroke-width="1"/><path d="M480.5 57.0 h-4" stroke="#000" stroke-width="1"/><path d="M480.5 142.0 h-4" stroke="#000" stroke-width="1"/><path d="M480.5 227.0 h-4" stroke="#000" stroke-width="1"/><path d="M480.5 311.0 h-4" stroke="#000" stroke-width="1"/>
<g font-family="'Liberation Serif', 'DejaVu Serif', serif" font-size="23" fill="#111"><text x="135.1" y="434.5" text-anchor="middle">0.5</text><text x="232.4" y="434.5" text-anchor="middle">1</text><text x="329.7" y="434.5" text-anchor="middle">1.5</text><text x="427.0" y="434.5" text-anchor="middle">2</text><text x="43.0" y="36.0" text-anchor="end">2</text><text x="43.0" y="133.0" text-anchor="end">1.5</text><text x="43.0" y="230.1" text-anchor="end">1</text><text x="43.0" y="327.1" text-anchor="end">0.5</text><text x="488.5" y="63.0" text-anchor="start">2.0</text><text x="488.5" y="148.0" text-anchor="start">1.5</text><text x="488.5" y="233.0" text-anchor="start">1.0</text><text x="488.5" y="317.0" text-anchor="start">0.5</text><text x="488.5" y="411.0" text-anchor="start">-0.06</text></g>
<path d="M541.6 206.5q-1.2 3 0.6 6.5" stroke="#555" stroke-width="1.3" fill="none"/><rect x="541" y="220" width="1.6" height="9" fill="#555"/>
</svg>
</body></html>
